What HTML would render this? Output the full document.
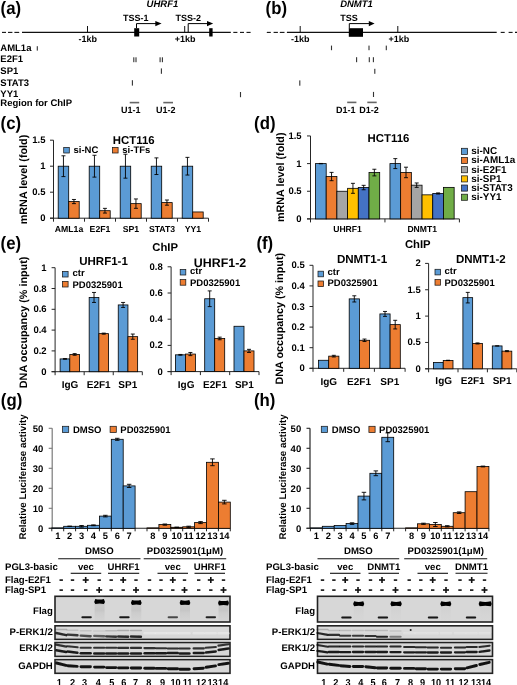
<!DOCTYPE html>
<html><head><meta charset="utf-8"><title>Figure</title>
<style>
html,body{margin:0;padding:0;background:#fff;}
body{width:517px;height:685px;overflow:hidden;}
svg{display:block;filter:blur(0.3px);}
text{font-family:"Liberation Sans", sans-serif;font-weight:bold;text-rendering:geometricPrecision;}
</style></head>
<body>
<svg width="517" height="685" viewBox="0 0 517 685">
<defs>
<filter id="bl" filterUnits="userSpaceOnUse" x="0" y="0" width="517" height="685"><feGaussianBlur stdDeviation="0.45"/></filter>
<linearGradient id="sm" x1="0" y1="0" x2="0" y2="1">
<stop offset="0" stop-color="#b0b0b0"/><stop offset="0.2" stop-color="#c6c6c6"/><stop offset="0.45" stop-color="#c2c2c2"/><stop offset="0.6" stop-color="#cacaca"/><stop offset="1" stop-color="#d2d2d2"/>
</linearGradient>
</defs>
<rect width="517" height="685" fill="#fff"/>
<text x="0.6" y="14.4" font-size="16.8" transform="translate(0.6 14.4) scale(1 1.06) translate(-0.6 -14.4)">(a)</text>
<line x1="2" y1="32.4" x2="6" y2="32.4" stroke="#111" stroke-width="1.1"/>
<line x1="8" y1="32.4" x2="12.4" y2="32.4" stroke="#111" stroke-width="1.1"/>
<line x1="14.4" y1="32.4" x2="19.2" y2="32.4" stroke="#111" stroke-width="1.1"/>
<line x1="22" y1="32.4" x2="230.8" y2="32.4" stroke="#111" stroke-width="1.1"/>
<line x1="233.3" y1="32.4" x2="237.4" y2="32.4" stroke="#111" stroke-width="1.1"/>
<line x1="240" y1="32.4" x2="244" y2="32.4" stroke="#111" stroke-width="1.1"/>
<line x1="246.5" y1="32.4" x2="250.6" y2="32.4" stroke="#111" stroke-width="1.1"/>
<line x1="87.5" y1="26" x2="87.5" y2="32.4" stroke="#111" stroke-width="1"/>
<line x1="184.7" y1="26" x2="184.7" y2="32.4" stroke="#111" stroke-width="1"/>
<text x="87.8" y="41.5" font-size="9" text-anchor="middle">-1kb</text>
<text x="185.2" y="41.5" font-size="9" text-anchor="middle">+1kb</text>
<text x="162.4" y="6.6" font-size="9.5" text-anchor="middle" font-style="italic">UHRF1</text>
<text x="135.8" y="21" font-size="9" text-anchor="middle">TSS-1</text>
<text x="188.3" y="21" font-size="9" text-anchor="middle">TSS-2</text>
<rect x="134.2" y="28.2" width="5" height="8.3" fill="#000"/>
<rect x="209.2" y="28.2" width="3.4" height="8.3" fill="#000"/>
<path d="M136.5 28.2 V23.6 H156" fill="none" stroke="#000" stroke-width="1"/>
<path d="M155.3 21 L161.6 23.6 L155.3 26.2 Z" fill="#000" stroke="none" stroke-width="0"/>
<path d="M188.2 32 V23.6 H208.5" fill="none" stroke="#000" stroke-width="1"/>
<path d="M207 21 L213.2 23.6 L207 26.2 Z" fill="#000" stroke="none" stroke-width="0"/>
<text x="0.3" y="50.9" font-size="9.5">AML1a</text>
<text x="0.3" y="62.4" font-size="9.5">E2F1</text>
<text x="0.3" y="74.1" font-size="9.5">SP1</text>
<text x="0.3" y="85.6" font-size="9.5">STAT3</text>
<text x="0.3" y="97.4" font-size="9.5">YY1</text>
<text x="0.3" y="105.6" font-size="9.5">Region for ChIP</text>
<rect x="36.75" y="46.2" width="1.1" height="4.4" fill="#333"/>
<rect x="133.25" y="57.3" width="1.1" height="4.9" fill="#333"/>
<rect x="135.45" y="57.3" width="1.1" height="4.9" fill="#333"/>
<rect x="159.55" y="57.3" width="1.1" height="4.9" fill="#333"/>
<rect x="161.85" y="57.3" width="1.1" height="4.9" fill="#333"/>
<rect x="160.85" y="68.4" width="1.1" height="5.4" fill="#333"/>
<rect x="131.85" y="80.2" width="1.1" height="5.4" fill="#333"/>
<rect x="239.95" y="92" width="1.1" height="5.2" fill="#333"/>
<rect x="129.7" y="101.8" width="9.5" height="1.6" fill="#666"/>
<rect x="163.3" y="101.8" width="9.7" height="1.6" fill="#666"/>
<text x="130.8" y="113" font-size="9" text-anchor="middle">U1-1</text>
<text x="165.8" y="113" font-size="9" text-anchor="middle">U1-2</text>
<text x="265.6" y="14.4" font-size="16.8" transform="translate(265.6 14.4) scale(1 1.06) translate(-265.6 -14.4)">(b)</text>
<line x1="266.8" y1="32.4" x2="270.8" y2="32.4" stroke="#111" stroke-width="1.1"/>
<line x1="273.6" y1="32.4" x2="277.9" y2="32.4" stroke="#111" stroke-width="1.1"/>
<line x1="279.8" y1="32.4" x2="284.5" y2="32.4" stroke="#111" stroke-width="1.1"/>
<line x1="286.9" y1="32.4" x2="496.7" y2="32.4" stroke="#111" stroke-width="1.1"/>
<line x1="500.7" y1="32.4" x2="504.7" y2="32.4" stroke="#111" stroke-width="1.1"/>
<line x1="508.6" y1="32.4" x2="512.6" y2="32.4" stroke="#111" stroke-width="1.1"/>
<line x1="515" y1="32.4" x2="517" y2="32.4" stroke="#111" stroke-width="1.1"/>
<line x1="300.2" y1="26" x2="300.2" y2="32.4" stroke="#111" stroke-width="1"/>
<line x1="397.8" y1="26" x2="397.8" y2="32.4" stroke="#111" stroke-width="1"/>
<text x="300.3" y="41.5" font-size="9" text-anchor="middle">-1kb</text>
<text x="398.8" y="41.5" font-size="9" text-anchor="middle">+1kb</text>
<text x="356.5" y="6.6" font-size="9.5" text-anchor="middle" font-style="italic">DNMT1</text>
<text x="349.1" y="20.8" font-size="9" text-anchor="middle">TSS</text>
<rect x="348.8" y="28.2" width="14.2" height="8.6" fill="#000"/>
<path d="M349.3 28.5 V23.6 H370" fill="none" stroke="#000" stroke-width="1"/>
<path d="M368.8 21 L374.6 23.6 L368.8 26.2 Z" fill="#000" stroke="none" stroke-width="0"/>
<rect x="330.95" y="45.6" width="1.1" height="4.6" fill="#333"/>
<rect x="368.45" y="45.6" width="1.1" height="4.6" fill="#333"/>
<rect x="385.75" y="45.6" width="1.1" height="4.6" fill="#333"/>
<rect x="356.05" y="57.2" width="1.1" height="5" fill="#333"/>
<rect x="368.75" y="57.2" width="1.1" height="5" fill="#333"/>
<rect x="372.85" y="57.2" width="1.1" height="5" fill="#333"/>
<rect x="374.25" y="68.8" width="1.1" height="5" fill="#333"/>
<rect x="299.25" y="80.4" width="1.1" height="5.3" fill="#333"/>
<rect x="372.95" y="91.9" width="1.1" height="5.1" fill="#333"/>
<rect x="347.2" y="101.6" width="9.2" height="1.6" fill="#666"/>
<rect x="367.3" y="101.6" width="9.4" height="1.6" fill="#666"/>
<text x="345.8" y="113" font-size="9" text-anchor="middle">D1-1</text>
<text x="369" y="113" font-size="9" text-anchor="middle">D1-2</text>
<text x="0.6" y="128.9" font-size="16.8" transform="translate(0.6 128.9) scale(1 1.06) translate(-0.6 -128.9)">(c)</text>
<line x1="53.5" y1="140.2" x2="53.5" y2="218.7" stroke="#262626" stroke-width="1"/>
<line x1="50" y1="218.2" x2="53.5" y2="218.2" stroke="#262626" stroke-width="1"/>
<text x="45.5" y="221.2" font-size="9.5" text-anchor="end">0</text>
<line x1="50" y1="192.2" x2="53.5" y2="192.2" stroke="#262626" stroke-width="1"/>
<text x="45.5" y="195.2" font-size="9.5" text-anchor="end">0.5</text>
<line x1="50" y1="166.2" x2="53.5" y2="166.2" stroke="#262626" stroke-width="1"/>
<text x="45.5" y="169.2" font-size="9.5" text-anchor="end">1</text>
<line x1="50" y1="140.2" x2="53.5" y2="140.2" stroke="#262626" stroke-width="1"/>
<text x="45.5" y="143.2" font-size="9.5" text-anchor="end">1.5</text>
<line x1="50" y1="218.2" x2="208.5" y2="218.2" stroke="#262626" stroke-width="1"/>
<line x1="53.5" y1="218.2" x2="53.5" y2="221.7" stroke="#262626" stroke-width="1"/>
<line x1="84.5" y1="218.2" x2="84.5" y2="221.7" stroke="#262626" stroke-width="1"/>
<line x1="115.5" y1="218.2" x2="115.5" y2="221.7" stroke="#262626" stroke-width="1"/>
<line x1="146.5" y1="218.2" x2="146.5" y2="221.7" stroke="#262626" stroke-width="1"/>
<line x1="177.5" y1="218.2" x2="177.5" y2="221.7" stroke="#262626" stroke-width="1"/>
<line x1="208.5" y1="218.2" x2="208.5" y2="221.7" stroke="#262626" stroke-width="1"/>
<rect x="58.2" y="166.2" width="10.5" height="52" fill="#5B9BD5" stroke="#000" stroke-width="0.8"/>
<line x1="63.45" y1="155.8" x2="63.45" y2="176.6" stroke="#000" stroke-width="0.9"/>
<line x1="61.45" y1="155.8" x2="65.45" y2="155.8" stroke="#000" stroke-width="0.9"/>
<line x1="61.45" y1="176.6" x2="65.45" y2="176.6" stroke="#000" stroke-width="0.9"/>
<rect x="68.7" y="201.56" width="10.5" height="16.64" fill="#ED7D31" stroke="#000" stroke-width="0.8"/>
<line x1="73.95" y1="199.48" x2="73.95" y2="203.64" stroke="#000" stroke-width="0.9"/>
<line x1="71.95" y1="199.48" x2="75.95" y2="199.48" stroke="#000" stroke-width="0.9"/>
<line x1="71.95" y1="203.64" x2="75.95" y2="203.64" stroke="#000" stroke-width="0.9"/>
<rect x="89.2" y="166.2" width="10.5" height="52" fill="#5B9BD5" stroke="#000" stroke-width="0.8"/>
<line x1="94.45" y1="155.28" x2="94.45" y2="177.12" stroke="#000" stroke-width="0.9"/>
<line x1="92.45" y1="155.28" x2="96.45" y2="155.28" stroke="#000" stroke-width="0.9"/>
<line x1="92.45" y1="177.12" x2="96.45" y2="177.12" stroke="#000" stroke-width="0.9"/>
<rect x="99.7" y="210.71" width="10.5" height="7.49" fill="#ED7D31" stroke="#000" stroke-width="0.8"/>
<line x1="104.95" y1="208.37" x2="104.95" y2="213.05" stroke="#000" stroke-width="0.9"/>
<line x1="102.95" y1="208.37" x2="106.95" y2="208.37" stroke="#000" stroke-width="0.9"/>
<line x1="102.95" y1="213.05" x2="106.95" y2="213.05" stroke="#000" stroke-width="0.9"/>
<rect x="120.2" y="166.2" width="10.5" height="52" fill="#5B9BD5" stroke="#000" stroke-width="0.8"/>
<line x1="125.45" y1="154.24" x2="125.45" y2="178.16" stroke="#000" stroke-width="0.9"/>
<line x1="123.45" y1="154.24" x2="127.45" y2="154.24" stroke="#000" stroke-width="0.9"/>
<line x1="123.45" y1="178.16" x2="127.45" y2="178.16" stroke="#000" stroke-width="0.9"/>
<rect x="130.7" y="203.64" width="10.5" height="14.56" fill="#ED7D31" stroke="#000" stroke-width="0.8"/>
<line x1="135.95" y1="198.96" x2="135.95" y2="208.32" stroke="#000" stroke-width="0.9"/>
<line x1="133.95" y1="198.96" x2="137.95" y2="198.96" stroke="#000" stroke-width="0.9"/>
<line x1="133.95" y1="208.32" x2="137.95" y2="208.32" stroke="#000" stroke-width="0.9"/>
<rect x="151.2" y="166.2" width="10.5" height="52" fill="#5B9BD5" stroke="#000" stroke-width="0.8"/>
<line x1="156.45" y1="157.88" x2="156.45" y2="174.52" stroke="#000" stroke-width="0.9"/>
<line x1="154.45" y1="157.88" x2="158.45" y2="157.88" stroke="#000" stroke-width="0.9"/>
<line x1="154.45" y1="174.52" x2="158.45" y2="174.52" stroke="#000" stroke-width="0.9"/>
<rect x="161.7" y="202.6" width="10.5" height="15.6" fill="#ED7D31" stroke="#000" stroke-width="0.8"/>
<line x1="166.95" y1="200" x2="166.95" y2="205.2" stroke="#000" stroke-width="0.9"/>
<line x1="164.95" y1="200" x2="168.95" y2="200" stroke="#000" stroke-width="0.9"/>
<line x1="164.95" y1="205.2" x2="168.95" y2="205.2" stroke="#000" stroke-width="0.9"/>
<rect x="182.2" y="166.2" width="10.5" height="52" fill="#5B9BD5" stroke="#000" stroke-width="0.8"/>
<line x1="187.45" y1="157.36" x2="187.45" y2="175.04" stroke="#000" stroke-width="0.9"/>
<line x1="185.45" y1="157.36" x2="189.45" y2="157.36" stroke="#000" stroke-width="0.9"/>
<line x1="185.45" y1="175.04" x2="189.45" y2="175.04" stroke="#000" stroke-width="0.9"/>
<rect x="192.7" y="211.96" width="10.5" height="6.24" fill="#ED7D31" stroke="#000" stroke-width="0.8"/>
<text x="69" y="232.1" font-size="8.7" text-anchor="middle">AML1a</text>
<text x="100" y="232.1" font-size="8.7" text-anchor="middle">E2F1</text>
<text x="131" y="232.1" font-size="8.7" text-anchor="middle">SP1</text>
<text x="162" y="232.1" font-size="8.7" text-anchor="middle">STAT3</text>
<text x="193" y="232.1" font-size="8.7" text-anchor="middle">YY1</text>
<text x="133.7" y="143.8" font-size="11.4" text-anchor="middle">HCT116</text>
<rect x="63.7" y="147.4" width="5.6" height="5.6" fill="#5B9BD5" stroke="#1a1a1a" stroke-width="0.75"/>
<text x="73.5" y="153.2" font-size="9.5">si-NC</text>
<rect x="112.5" y="147.4" width="5.6" height="5.6" fill="#ED7D31" stroke="#1a1a1a" stroke-width="0.75"/>
<text x="122.3" y="153.2" font-size="9.5">si-TFs</text>
<text x="27.4" y="179.5" font-size="10.8" text-anchor="middle" transform="rotate(-90 27.4 179.5)">mRNA level (fold)</text>
<text x="254.1" y="128.9" font-size="16.8" transform="translate(254.1 128.9) scale(1 1.06) translate(-254.1 -128.9)">(d)</text>
<line x1="310.5" y1="135.95" x2="310.5" y2="219.4" stroke="#262626" stroke-width="1"/>
<line x1="307" y1="218.9" x2="310.5" y2="218.9" stroke="#262626" stroke-width="1"/>
<text x="301.6" y="221.9" font-size="9.5" text-anchor="end">0</text>
<line x1="307" y1="191.25" x2="310.5" y2="191.25" stroke="#262626" stroke-width="1"/>
<text x="301.6" y="194.25" font-size="9.5" text-anchor="end">0.5</text>
<line x1="307" y1="163.6" x2="310.5" y2="163.6" stroke="#262626" stroke-width="1"/>
<text x="301.6" y="166.6" font-size="9.5" text-anchor="end">1</text>
<line x1="307" y1="135.95" x2="310.5" y2="135.95" stroke="#262626" stroke-width="1"/>
<text x="301.6" y="138.95" font-size="9.5" text-anchor="end">1.5</text>
<line x1="307" y1="218.9" x2="459.4" y2="218.9" stroke="#262626" stroke-width="1"/>
<line x1="310.5" y1="218.9" x2="310.5" y2="222.4" stroke="#262626" stroke-width="1"/>
<line x1="384.95" y1="218.9" x2="384.95" y2="222.4" stroke="#262626" stroke-width="1"/>
<line x1="459.4" y1="218.9" x2="459.4" y2="222.4" stroke="#262626" stroke-width="1"/>
<rect x="315.5" y="163.6" width="10.7" height="55.3" fill="#5B9BD5" stroke="#000" stroke-width="0.8"/>
<line x1="318.85" y1="163.6" x2="322.85" y2="163.6" stroke="#000" stroke-width="1.3"/>
<rect x="326.2" y="176.54" width="10.7" height="42.36" fill="#ED7D31" stroke="#000" stroke-width="0.8"/>
<line x1="331.55" y1="172.39" x2="331.55" y2="180.69" stroke="#000" stroke-width="0.9"/>
<line x1="329.55" y1="172.39" x2="333.55" y2="172.39" stroke="#000" stroke-width="0.9"/>
<line x1="329.55" y1="180.69" x2="333.55" y2="180.69" stroke="#000" stroke-width="0.9"/>
<rect x="336.9" y="191.25" width="10.7" height="27.65" fill="#A5A5A5" stroke="#000" stroke-width="0.8"/>
<rect x="347.6" y="188.32" width="10.7" height="30.58" fill="#FFC000" stroke="#000" stroke-width="0.8"/>
<line x1="352.95" y1="183.34" x2="352.95" y2="193.3" stroke="#000" stroke-width="0.9"/>
<line x1="350.95" y1="183.34" x2="354.95" y2="183.34" stroke="#000" stroke-width="0.9"/>
<line x1="350.95" y1="193.3" x2="354.95" y2="193.3" stroke="#000" stroke-width="0.9"/>
<rect x="358.3" y="187.54" width="10.7" height="31.36" fill="#4472C4" stroke="#000" stroke-width="0.8"/>
<line x1="363.65" y1="185.33" x2="363.65" y2="189.76" stroke="#000" stroke-width="0.9"/>
<line x1="361.65" y1="185.33" x2="365.65" y2="185.33" stroke="#000" stroke-width="0.9"/>
<line x1="361.65" y1="189.76" x2="365.65" y2="189.76" stroke="#000" stroke-width="0.9"/>
<rect x="369" y="172.56" width="10.7" height="46.34" fill="#70AD47" stroke="#000" stroke-width="0.8"/>
<line x1="374.35" y1="169.24" x2="374.35" y2="175.88" stroke="#000" stroke-width="0.9"/>
<line x1="372.35" y1="169.24" x2="376.35" y2="169.24" stroke="#000" stroke-width="0.9"/>
<line x1="372.35" y1="175.88" x2="376.35" y2="175.88" stroke="#000" stroke-width="0.9"/>
<rect x="389.95" y="163.6" width="10.7" height="55.3" fill="#5B9BD5" stroke="#000" stroke-width="0.8"/>
<line x1="395.3" y1="158.62" x2="395.3" y2="168.58" stroke="#000" stroke-width="0.9"/>
<line x1="393.3" y1="158.62" x2="397.3" y2="158.62" stroke="#000" stroke-width="0.9"/>
<line x1="393.3" y1="168.58" x2="397.3" y2="168.58" stroke="#000" stroke-width="0.9"/>
<rect x="400.65" y="172.45" width="10.7" height="46.45" fill="#ED7D31" stroke="#000" stroke-width="0.8"/>
<line x1="406" y1="167.19" x2="406" y2="177.7" stroke="#000" stroke-width="0.9"/>
<line x1="404" y1="167.19" x2="408" y2="167.19" stroke="#000" stroke-width="0.9"/>
<line x1="404" y1="177.7" x2="408" y2="177.7" stroke="#000" stroke-width="0.9"/>
<rect x="411.35" y="185.17" width="10.7" height="33.73" fill="#A5A5A5" stroke="#000" stroke-width="0.8"/>
<line x1="416.7" y1="182.96" x2="416.7" y2="187.38" stroke="#000" stroke-width="0.9"/>
<line x1="414.7" y1="182.96" x2="418.7" y2="182.96" stroke="#000" stroke-width="0.9"/>
<line x1="414.7" y1="187.38" x2="418.7" y2="187.38" stroke="#000" stroke-width="0.9"/>
<rect x="422.05" y="194.84" width="10.7" height="24.06" fill="#FFC000" stroke="#000" stroke-width="0.8"/>
<rect x="432.75" y="193.46" width="10.7" height="25.44" fill="#4472C4" stroke="#000" stroke-width="0.8"/>
<line x1="438.1" y1="192.91" x2="438.1" y2="194.02" stroke="#000" stroke-width="0.9"/>
<line x1="436.1" y1="192.91" x2="440.1" y2="192.91" stroke="#000" stroke-width="0.9"/>
<line x1="436.1" y1="194.02" x2="440.1" y2="194.02" stroke="#000" stroke-width="0.9"/>
<rect x="443.45" y="187.38" width="10.7" height="31.52" fill="#70AD47" stroke="#000" stroke-width="0.8"/>
<text x="347.5" y="232.2" font-size="8.6" text-anchor="middle">UHRF1</text>
<text x="422.2" y="232.3" font-size="8.6" text-anchor="middle">DNMT1</text>
<text x="388.5" y="142.1" font-size="11.4" text-anchor="middle">HCT116</text>
<rect x="461.5" y="148.3" width="6.1" height="6.1" fill="#5B9BD5" stroke="#1a1a1a" stroke-width="0.75"/>
<text x="471.3" y="154.2" font-size="9.9">si-NC</text>
<rect x="461.5" y="157.48" width="6.1" height="6.1" fill="#ED7D31" stroke="#1a1a1a" stroke-width="0.75"/>
<text x="471.3" y="163.38" font-size="9.9">si-AML1a</text>
<rect x="461.5" y="166.66" width="6.1" height="6.1" fill="#A5A5A5" stroke="#1a1a1a" stroke-width="0.75"/>
<text x="471.3" y="172.56" font-size="9.9">si-E2F1</text>
<rect x="461.5" y="175.84" width="6.1" height="6.1" fill="#FFC000" stroke="#1a1a1a" stroke-width="0.75"/>
<text x="471.3" y="181.74" font-size="9.9">si-SP1</text>
<rect x="461.5" y="185.02" width="6.1" height="6.1" fill="#4472C4" stroke="#1a1a1a" stroke-width="0.75"/>
<text x="471.3" y="190.92" font-size="9.9">si-STAT3</text>
<rect x="461.5" y="194.2" width="6.1" height="6.1" fill="#70AD47" stroke="#1a1a1a" stroke-width="0.75"/>
<text x="471.3" y="200.1" font-size="9.9">si-YY1</text>
<text x="283.6" y="177.3" font-size="10.8" text-anchor="middle" transform="rotate(-90 283.6 177.3)">mRNA level (fold)</text>
<text x="0.6" y="248.8" font-size="16.8" transform="translate(0.6 248.8) scale(1 1.06) translate(-0.6 -248.8)">(e)</text>
<text x="165.1" y="250.9" font-size="11.3" text-anchor="middle">ChIP</text>
<text x="26.6" y="322.4" font-size="10.8" text-anchor="middle" transform="rotate(-90 26.6 322.4)">DNA occupancy (% input)</text>
<line x1="55.1" y1="267.7" x2="55.1" y2="372.2" stroke="#262626" stroke-width="1"/>
<line x1="51.6" y1="371.7" x2="55.1" y2="371.7" stroke="#262626" stroke-width="1"/>
<text x="46.6" y="374.7" font-size="9.5" text-anchor="end">0</text>
<line x1="51.6" y1="350.9" x2="55.1" y2="350.9" stroke="#262626" stroke-width="1"/>
<text x="46.6" y="353.9" font-size="9.5" text-anchor="end">0.2</text>
<line x1="51.6" y1="330.1" x2="55.1" y2="330.1" stroke="#262626" stroke-width="1"/>
<text x="46.6" y="333.1" font-size="9.5" text-anchor="end">0.4</text>
<line x1="51.6" y1="309.3" x2="55.1" y2="309.3" stroke="#262626" stroke-width="1"/>
<text x="46.6" y="312.3" font-size="9.5" text-anchor="end">0.6</text>
<line x1="51.6" y1="288.5" x2="55.1" y2="288.5" stroke="#262626" stroke-width="1"/>
<text x="46.6" y="291.5" font-size="9.5" text-anchor="end">0.8</text>
<line x1="51.6" y1="267.7" x2="55.1" y2="267.7" stroke="#262626" stroke-width="1"/>
<text x="46.6" y="270.7" font-size="9.5" text-anchor="end">1</text>
<line x1="51.6" y1="371.7" x2="142.31" y2="371.7" stroke="#262626" stroke-width="1"/>
<line x1="55.1" y1="371.7" x2="55.1" y2="375.2" stroke="#262626" stroke-width="1"/>
<line x1="84.17" y1="371.7" x2="84.17" y2="375.2" stroke="#262626" stroke-width="1"/>
<line x1="113.24" y1="371.7" x2="113.24" y2="375.2" stroke="#262626" stroke-width="1"/>
<line x1="142.31" y1="371.7" x2="142.31" y2="375.2" stroke="#262626" stroke-width="1"/>
<rect x="60.1" y="358.91" width="9.7" height="12.79" fill="#5B9BD5" stroke="#000" stroke-width="0.8"/>
<line x1="64.95" y1="358.6" x2="64.95" y2="359.22" stroke="#000" stroke-width="0.9"/>
<line x1="62.95" y1="358.6" x2="66.95" y2="358.6" stroke="#000" stroke-width="0.9"/>
<line x1="62.95" y1="359.22" x2="66.95" y2="359.22" stroke="#000" stroke-width="0.9"/>
<rect x="69.8" y="354.44" width="9.7" height="17.26" fill="#ED7D31" stroke="#000" stroke-width="0.8"/>
<line x1="74.65" y1="353.6" x2="74.65" y2="355.27" stroke="#000" stroke-width="0.9"/>
<line x1="72.65" y1="353.6" x2="76.65" y2="353.6" stroke="#000" stroke-width="0.9"/>
<line x1="72.65" y1="355.27" x2="76.65" y2="355.27" stroke="#000" stroke-width="0.9"/>
<rect x="89.17" y="297.44" width="9.7" height="74.26" fill="#5B9BD5" stroke="#000" stroke-width="0.8"/>
<line x1="94.02" y1="292.45" x2="94.02" y2="302.44" stroke="#000" stroke-width="0.9"/>
<line x1="92.02" y1="292.45" x2="96.02" y2="292.45" stroke="#000" stroke-width="0.9"/>
<line x1="92.02" y1="302.44" x2="96.02" y2="302.44" stroke="#000" stroke-width="0.9"/>
<rect x="98.87" y="333.64" width="9.7" height="38.06" fill="#ED7D31" stroke="#000" stroke-width="0.8"/>
<line x1="103.72" y1="333.12" x2="103.72" y2="334.16" stroke="#000" stroke-width="0.9"/>
<line x1="101.72" y1="333.12" x2="105.72" y2="333.12" stroke="#000" stroke-width="0.9"/>
<line x1="101.72" y1="334.16" x2="105.72" y2="334.16" stroke="#000" stroke-width="0.9"/>
<rect x="118.24" y="304.93" width="9.7" height="66.77" fill="#5B9BD5" stroke="#000" stroke-width="0.8"/>
<line x1="123.09" y1="302.44" x2="123.09" y2="307.43" stroke="#000" stroke-width="0.9"/>
<line x1="121.09" y1="302.44" x2="125.09" y2="302.44" stroke="#000" stroke-width="0.9"/>
<line x1="121.09" y1="307.43" x2="125.09" y2="307.43" stroke="#000" stroke-width="0.9"/>
<rect x="127.94" y="336.65" width="9.7" height="35.05" fill="#ED7D31" stroke="#000" stroke-width="0.8"/>
<line x1="132.79" y1="334.05" x2="132.79" y2="339.25" stroke="#000" stroke-width="0.9"/>
<line x1="130.79" y1="334.05" x2="134.79" y2="334.05" stroke="#000" stroke-width="0.9"/>
<line x1="130.79" y1="339.25" x2="134.79" y2="339.25" stroke="#000" stroke-width="0.9"/>
<text x="70.04" y="388" font-size="10" text-anchor="middle">IgG</text>
<text x="98.71" y="388" font-size="10" text-anchor="middle">E2F1</text>
<text x="127.78" y="388" font-size="10" text-anchor="middle">SP1</text>
<text x="103.5" y="265.1" font-size="11.5" text-anchor="middle">UHRF1-1</text>
<rect x="62.5" y="271.4" width="5.6" height="5.6" fill="#5B9BD5" stroke="#1a1a1a" stroke-width="0.75"/>
<text x="72.5" y="275.8" font-size="9.5">ctr</text>
<rect x="62.5" y="281.4" width="5.6" height="5.6" fill="#ED7D31" stroke="#1a1a1a" stroke-width="0.75"/>
<text x="72.5" y="288.2" font-size="9.5">PD0325901</text>
<line x1="171.1" y1="266.8" x2="171.1" y2="372.1" stroke="#262626" stroke-width="1"/>
<line x1="167.6" y1="371.6" x2="171.1" y2="371.6" stroke="#262626" stroke-width="1"/>
<text x="162.8" y="374.6" font-size="9.5" text-anchor="end">0</text>
<line x1="167.6" y1="345.4" x2="171.1" y2="345.4" stroke="#262626" stroke-width="1"/>
<text x="162.8" y="348.4" font-size="9.5" text-anchor="end">0.2</text>
<line x1="167.6" y1="319.2" x2="171.1" y2="319.2" stroke="#262626" stroke-width="1"/>
<text x="162.8" y="322.2" font-size="9.5" text-anchor="end">0.4</text>
<line x1="167.6" y1="293" x2="171.1" y2="293" stroke="#262626" stroke-width="1"/>
<text x="162.8" y="296" font-size="9.5" text-anchor="end">0.6</text>
<line x1="167.6" y1="266.8" x2="171.1" y2="266.8" stroke="#262626" stroke-width="1"/>
<text x="162.8" y="269.8" font-size="9.5" text-anchor="end">0.8</text>
<line x1="167.6" y1="371.6" x2="259" y2="371.6" stroke="#262626" stroke-width="1"/>
<line x1="171.1" y1="371.6" x2="171.1" y2="375.1" stroke="#262626" stroke-width="1"/>
<line x1="200.4" y1="371.6" x2="200.4" y2="375.1" stroke="#262626" stroke-width="1"/>
<line x1="229.7" y1="371.6" x2="229.7" y2="375.1" stroke="#262626" stroke-width="1"/>
<line x1="259" y1="371.6" x2="259" y2="375.1" stroke="#262626" stroke-width="1"/>
<rect x="175.4" y="354.83" width="10" height="16.77" fill="#5B9BD5" stroke="#000" stroke-width="0.8"/>
<line x1="180.4" y1="354.44" x2="180.4" y2="355.23" stroke="#000" stroke-width="0.9"/>
<line x1="178.4" y1="354.44" x2="182.4" y2="354.44" stroke="#000" stroke-width="0.9"/>
<line x1="178.4" y1="355.23" x2="182.4" y2="355.23" stroke="#000" stroke-width="0.9"/>
<rect x="185.4" y="354.05" width="10" height="17.55" fill="#ED7D31" stroke="#000" stroke-width="0.8"/>
<line x1="190.4" y1="352.47" x2="190.4" y2="355.62" stroke="#000" stroke-width="0.9"/>
<line x1="188.4" y1="352.47" x2="192.4" y2="352.47" stroke="#000" stroke-width="0.9"/>
<line x1="188.4" y1="355.62" x2="192.4" y2="355.62" stroke="#000" stroke-width="0.9"/>
<rect x="204.7" y="298.76" width="10" height="72.84" fill="#5B9BD5" stroke="#000" stroke-width="0.8"/>
<line x1="209.7" y1="290.9" x2="209.7" y2="306.62" stroke="#000" stroke-width="0.9"/>
<line x1="207.7" y1="290.9" x2="211.7" y2="290.9" stroke="#000" stroke-width="0.9"/>
<line x1="207.7" y1="306.62" x2="211.7" y2="306.62" stroke="#000" stroke-width="0.9"/>
<rect x="214.7" y="338.46" width="10" height="33.14" fill="#ED7D31" stroke="#000" stroke-width="0.8"/>
<line x1="219.7" y1="337.15" x2="219.7" y2="339.77" stroke="#000" stroke-width="0.9"/>
<line x1="217.7" y1="337.15" x2="221.7" y2="337.15" stroke="#000" stroke-width="0.9"/>
<line x1="217.7" y1="339.77" x2="221.7" y2="339.77" stroke="#000" stroke-width="0.9"/>
<rect x="234" y="326.27" width="10" height="45.33" fill="#5B9BD5" stroke="#000" stroke-width="0.8"/>
<rect x="244" y="350.9" width="10" height="20.7" fill="#ED7D31" stroke="#000" stroke-width="0.8"/>
<line x1="249" y1="349.33" x2="249" y2="352.47" stroke="#000" stroke-width="0.9"/>
<line x1="247" y1="349.33" x2="251" y2="349.33" stroke="#000" stroke-width="0.9"/>
<line x1="247" y1="352.47" x2="251" y2="352.47" stroke="#000" stroke-width="0.9"/>
<text x="186.15" y="388" font-size="10" text-anchor="middle">IgG</text>
<text x="215.05" y="388" font-size="10" text-anchor="middle">E2F1</text>
<text x="244.35" y="388" font-size="10" text-anchor="middle">SP1</text>
<text x="220" y="267" font-size="12.4" text-anchor="middle">UHRF1-2</text>
<rect x="180.2" y="269.4" width="5.6" height="5.6" fill="#5B9BD5" stroke="#1a1a1a" stroke-width="0.75"/>
<text x="190" y="273.9" font-size="9.5">ctr</text>
<rect x="180.2" y="279.6" width="5.6" height="5.6" fill="#ED7D31" stroke="#1a1a1a" stroke-width="0.75"/>
<text x="190" y="286" font-size="9.5">PD0325901</text>
<text x="256.4" y="248.8" font-size="16.8" transform="translate(256.4 248.8) scale(1 1.06) translate(-256.4 -248.8)">(f)</text>
<text x="417.8" y="247.5" font-size="11.3" text-anchor="middle">ChIP</text>
<text x="283.5" y="318.7" font-size="10.8" text-anchor="middle" transform="rotate(-90 283.5 318.7)">DNA occupancy (% input)</text>
<line x1="313" y1="265.3" x2="313" y2="368.8" stroke="#262626" stroke-width="1"/>
<line x1="309.5" y1="368.3" x2="313" y2="368.3" stroke="#262626" stroke-width="1"/>
<text x="304.8" y="371.3" font-size="9.5" text-anchor="end">0</text>
<line x1="309.5" y1="347.7" x2="313" y2="347.7" stroke="#262626" stroke-width="1"/>
<text x="304.8" y="350.7" font-size="9.5" text-anchor="end">0.1</text>
<line x1="309.5" y1="327.1" x2="313" y2="327.1" stroke="#262626" stroke-width="1"/>
<text x="304.8" y="330.1" font-size="9.5" text-anchor="end">0.2</text>
<line x1="309.5" y1="306.5" x2="313" y2="306.5" stroke="#262626" stroke-width="1"/>
<text x="304.8" y="309.5" font-size="9.5" text-anchor="end">0.3</text>
<line x1="309.5" y1="285.9" x2="313" y2="285.9" stroke="#262626" stroke-width="1"/>
<text x="304.8" y="288.9" font-size="9.5" text-anchor="end">0.4</text>
<line x1="309.5" y1="265.3" x2="313" y2="265.3" stroke="#262626" stroke-width="1"/>
<text x="304.8" y="268.3" font-size="9.5" text-anchor="end">0.5</text>
<line x1="309.5" y1="368.3" x2="405.1" y2="368.3" stroke="#262626" stroke-width="1"/>
<line x1="313" y1="368.3" x2="313" y2="371.8" stroke="#262626" stroke-width="1"/>
<line x1="343.7" y1="368.3" x2="343.7" y2="371.8" stroke="#262626" stroke-width="1"/>
<line x1="374.4" y1="368.3" x2="374.4" y2="371.8" stroke="#262626" stroke-width="1"/>
<line x1="405.1" y1="368.3" x2="405.1" y2="371.8" stroke="#262626" stroke-width="1"/>
<rect x="318.5" y="360.27" width="10.2" height="8.03" fill="#5B9BD5" stroke="#000" stroke-width="0.8"/>
<rect x="328.7" y="356.15" width="10.2" height="12.15" fill="#ED7D31" stroke="#000" stroke-width="0.8"/>
<line x1="333.8" y1="355.32" x2="333.8" y2="356.97" stroke="#000" stroke-width="0.9"/>
<line x1="331.8" y1="355.32" x2="335.8" y2="355.32" stroke="#000" stroke-width="0.9"/>
<line x1="331.8" y1="356.97" x2="335.8" y2="356.97" stroke="#000" stroke-width="0.9"/>
<rect x="349.2" y="298.88" width="10.2" height="69.42" fill="#5B9BD5" stroke="#000" stroke-width="0.8"/>
<line x1="354.3" y1="295.79" x2="354.3" y2="301.97" stroke="#000" stroke-width="0.9"/>
<line x1="352.3" y1="295.79" x2="356.3" y2="295.79" stroke="#000" stroke-width="0.9"/>
<line x1="352.3" y1="301.97" x2="356.3" y2="301.97" stroke="#000" stroke-width="0.9"/>
<rect x="359.4" y="340.28" width="10.2" height="28.02" fill="#ED7D31" stroke="#000" stroke-width="0.8"/>
<line x1="364.5" y1="339.05" x2="364.5" y2="341.52" stroke="#000" stroke-width="0.9"/>
<line x1="362.5" y1="339.05" x2="366.5" y2="339.05" stroke="#000" stroke-width="0.9"/>
<line x1="362.5" y1="341.52" x2="366.5" y2="341.52" stroke="#000" stroke-width="0.9"/>
<rect x="379.9" y="313.92" width="10.2" height="54.38" fill="#5B9BD5" stroke="#000" stroke-width="0.8"/>
<line x1="385" y1="311.44" x2="385" y2="316.39" stroke="#000" stroke-width="0.9"/>
<line x1="383" y1="311.44" x2="387" y2="311.44" stroke="#000" stroke-width="0.9"/>
<line x1="383" y1="316.39" x2="387" y2="316.39" stroke="#000" stroke-width="0.9"/>
<rect x="390.1" y="324.63" width="10.2" height="43.67" fill="#ED7D31" stroke="#000" stroke-width="0.8"/>
<line x1="395.2" y1="320.3" x2="395.2" y2="328.95" stroke="#000" stroke-width="0.9"/>
<line x1="393.2" y1="320.3" x2="397.2" y2="320.3" stroke="#000" stroke-width="0.9"/>
<line x1="393.2" y1="328.95" x2="397.2" y2="328.95" stroke="#000" stroke-width="0.9"/>
<text x="328.75" y="384.5" font-size="10" text-anchor="middle">IgG</text>
<text x="359.05" y="384.5" font-size="10" text-anchor="middle">E2F1</text>
<text x="389.75" y="384.5" font-size="10" text-anchor="middle">SP1</text>
<text x="362" y="262.6" font-size="11.6" text-anchor="middle">DNMT1-1</text>
<rect x="318" y="271.2" width="5.6" height="5.6" fill="#5B9BD5" stroke="#1a1a1a" stroke-width="0.75"/>
<text x="327.5" y="275.2" font-size="9.5">ctr</text>
<rect x="318" y="281" width="5.6" height="5.6" fill="#ED7D31" stroke="#1a1a1a" stroke-width="0.75"/>
<text x="327.5" y="286.3" font-size="9.5">PD0325901</text>
<line x1="428.6" y1="263.4" x2="428.6" y2="369.3" stroke="#262626" stroke-width="1"/>
<line x1="425.1" y1="368.8" x2="428.6" y2="368.8" stroke="#262626" stroke-width="1"/>
<text x="420.8" y="371.8" font-size="9.5" text-anchor="end">0</text>
<line x1="425.1" y1="342.45" x2="428.6" y2="342.45" stroke="#262626" stroke-width="1"/>
<text x="420.8" y="345.45" font-size="9.5" text-anchor="end">0.5</text>
<line x1="425.1" y1="316.1" x2="428.6" y2="316.1" stroke="#262626" stroke-width="1"/>
<text x="420.8" y="319.1" font-size="9.5" text-anchor="end">1</text>
<line x1="425.1" y1="289.75" x2="428.6" y2="289.75" stroke="#262626" stroke-width="1"/>
<text x="420.8" y="292.75" font-size="9.5" text-anchor="end">1.5</text>
<line x1="425.1" y1="263.4" x2="428.6" y2="263.4" stroke="#262626" stroke-width="1"/>
<text x="420.8" y="266.4" font-size="9.5" text-anchor="end">2</text>
<line x1="425.1" y1="368.8" x2="516.8" y2="368.8" stroke="#262626" stroke-width="1"/>
<line x1="428.6" y1="368.8" x2="428.6" y2="372.3" stroke="#262626" stroke-width="1"/>
<line x1="458" y1="368.8" x2="458" y2="372.3" stroke="#262626" stroke-width="1"/>
<line x1="487.4" y1="368.8" x2="487.4" y2="372.3" stroke="#262626" stroke-width="1"/>
<line x1="516.8" y1="368.8" x2="516.8" y2="372.3" stroke="#262626" stroke-width="1"/>
<rect x="433.5" y="362.42" width="9.75" height="6.38" fill="#5B9BD5" stroke="#000" stroke-width="0.8"/>
<rect x="443.25" y="360.42" width="9.75" height="8.38" fill="#ED7D31" stroke="#000" stroke-width="0.8"/>
<line x1="446.12" y1="360.42" x2="450.12" y2="360.42" stroke="#000" stroke-width="1.3"/>
<rect x="462.9" y="297.65" width="9.75" height="71.15" fill="#5B9BD5" stroke="#000" stroke-width="0.8"/>
<line x1="467.77" y1="292.38" x2="467.77" y2="302.93" stroke="#000" stroke-width="0.9"/>
<line x1="465.77" y1="292.38" x2="469.77" y2="292.38" stroke="#000" stroke-width="0.9"/>
<line x1="465.77" y1="302.93" x2="469.77" y2="302.93" stroke="#000" stroke-width="0.9"/>
<rect x="472.65" y="343.45" width="9.75" height="25.35" fill="#ED7D31" stroke="#000" stroke-width="0.8"/>
<line x1="477.52" y1="342.92" x2="477.52" y2="343.98" stroke="#000" stroke-width="0.9"/>
<line x1="475.52" y1="342.92" x2="479.52" y2="342.92" stroke="#000" stroke-width="0.9"/>
<line x1="475.52" y1="343.98" x2="479.52" y2="343.98" stroke="#000" stroke-width="0.9"/>
<rect x="492.3" y="345.93" width="9.75" height="22.87" fill="#5B9BD5" stroke="#000" stroke-width="0.8"/>
<line x1="495.18" y1="345.93" x2="499.18" y2="345.93" stroke="#000" stroke-width="1.3"/>
<rect x="502.05" y="351.15" width="9.75" height="17.65" fill="#ED7D31" stroke="#000" stroke-width="0.8"/>
<line x1="506.93" y1="350.62" x2="506.93" y2="351.67" stroke="#000" stroke-width="0.9"/>
<line x1="504.93" y1="350.62" x2="508.93" y2="350.62" stroke="#000" stroke-width="0.9"/>
<line x1="504.93" y1="351.67" x2="508.93" y2="351.67" stroke="#000" stroke-width="0.9"/>
<text x="443.7" y="384" font-size="10" text-anchor="middle">IgG</text>
<text x="472.7" y="384" font-size="10" text-anchor="middle">E2F1</text>
<text x="502.1" y="384" font-size="10" text-anchor="middle">SP1</text>
<text x="480.8" y="262.5" font-size="11.5" text-anchor="middle">DNMT1-2</text>
<rect x="435" y="269.3" width="5.6" height="5.6" fill="#5B9BD5" stroke="#1a1a1a" stroke-width="0.75"/>
<text x="444.5" y="273.5" font-size="9.5">ctr</text>
<rect x="435" y="279.6" width="5.6" height="5.6" fill="#ED7D31" stroke="#1a1a1a" stroke-width="0.75"/>
<text x="444.5" y="285.8" font-size="9.5">PD0325901</text>
<text x="0.8" y="406" font-size="16.8" transform="translate(0.8 406) scale(1 1.06) translate(-0.8 -406)">(g)</text>
<line x1="52.2" y1="428.3" x2="52.2" y2="528.8" stroke="#7a7a7a" stroke-width="1.2"/>
<line x1="48.7" y1="528.3" x2="52.2" y2="528.3" stroke="#7a7a7a" stroke-width="1.1"/>
<text x="43.4" y="531.6" font-size="9.5" text-anchor="end">0</text>
<line x1="48.7" y1="508.3" x2="52.2" y2="508.3" stroke="#7a7a7a" stroke-width="1.1"/>
<text x="43.4" y="511.6" font-size="9.5" text-anchor="end">10</text>
<line x1="48.7" y1="488.3" x2="52.2" y2="488.3" stroke="#7a7a7a" stroke-width="1.1"/>
<text x="43.4" y="491.6" font-size="9.5" text-anchor="end">20</text>
<line x1="48.7" y1="468.3" x2="52.2" y2="468.3" stroke="#7a7a7a" stroke-width="1.1"/>
<text x="43.4" y="471.6" font-size="9.5" text-anchor="end">30</text>
<line x1="48.7" y1="448.3" x2="52.2" y2="448.3" stroke="#7a7a7a" stroke-width="1.1"/>
<text x="43.4" y="451.6" font-size="9.5" text-anchor="end">40</text>
<line x1="48.7" y1="428.3" x2="52.2" y2="428.3" stroke="#7a7a7a" stroke-width="1.1"/>
<text x="43.4" y="431.6" font-size="9.5" text-anchor="end">50</text>
<line x1="48.7" y1="528.3" x2="230.3" y2="528.3" stroke="#262626" stroke-width="1.1"/>
<line x1="51.8" y1="528.3" x2="51.8" y2="531.3" stroke="#262626" stroke-width="1"/>
<line x1="63.7" y1="528.3" x2="63.7" y2="531.3" stroke="#262626" stroke-width="1"/>
<line x1="75.6" y1="528.3" x2="75.6" y2="531.3" stroke="#262626" stroke-width="1"/>
<line x1="87.5" y1="528.3" x2="87.5" y2="531.3" stroke="#262626" stroke-width="1"/>
<line x1="99.4" y1="528.3" x2="99.4" y2="531.3" stroke="#262626" stroke-width="1"/>
<line x1="111.3" y1="528.3" x2="111.3" y2="531.3" stroke="#262626" stroke-width="1"/>
<line x1="123.2" y1="528.3" x2="123.2" y2="531.3" stroke="#262626" stroke-width="1"/>
<line x1="135.1" y1="528.3" x2="135.1" y2="531.3" stroke="#262626" stroke-width="1"/>
<line x1="147" y1="528.3" x2="147" y2="531.3" stroke="#262626" stroke-width="1"/>
<line x1="158.9" y1="528.3" x2="158.9" y2="531.3" stroke="#262626" stroke-width="1"/>
<line x1="170.8" y1="528.3" x2="170.8" y2="531.3" stroke="#262626" stroke-width="1"/>
<line x1="182.7" y1="528.3" x2="182.7" y2="531.3" stroke="#262626" stroke-width="1"/>
<line x1="194.6" y1="528.3" x2="194.6" y2="531.3" stroke="#262626" stroke-width="1"/>
<line x1="206.5" y1="528.3" x2="206.5" y2="531.3" stroke="#262626" stroke-width="1"/>
<line x1="218.4" y1="528.3" x2="218.4" y2="531.3" stroke="#262626" stroke-width="1"/>
<line x1="230.3" y1="528.3" x2="230.3" y2="531.3" stroke="#262626" stroke-width="1"/>
<rect x="51.8" y="527.9" width="11.9" height="0.4" fill="#5B9BD5" stroke="#000" stroke-width="0.8"/>
<rect x="63.7" y="526.3" width="11.9" height="2" fill="#5B9BD5" stroke="#000" stroke-width="0.8"/>
<line x1="67.4" y1="526.3" x2="71.9" y2="526.3" stroke="#000" stroke-width="1.3"/>
<rect x="75.6" y="526.3" width="11.9" height="2" fill="#5B9BD5" stroke="#000" stroke-width="0.8"/>
<line x1="81.55" y1="525.5" x2="81.55" y2="527.1" stroke="#000" stroke-width="0.9"/>
<line x1="79.3" y1="525.5" x2="83.8" y2="525.5" stroke="#000" stroke-width="0.9"/>
<line x1="79.3" y1="527.1" x2="83.8" y2="527.1" stroke="#000" stroke-width="0.9"/>
<rect x="87.5" y="525.3" width="11.9" height="3" fill="#5B9BD5" stroke="#000" stroke-width="0.8"/>
<line x1="93.45" y1="524.9" x2="93.45" y2="525.7" stroke="#000" stroke-width="0.9"/>
<line x1="91.2" y1="524.9" x2="95.7" y2="524.9" stroke="#000" stroke-width="0.9"/>
<line x1="91.2" y1="525.7" x2="95.7" y2="525.7" stroke="#000" stroke-width="0.9"/>
<rect x="99.4" y="516.1" width="11.9" height="12.2" fill="#5B9BD5" stroke="#000" stroke-width="0.8"/>
<line x1="105.35" y1="515.3" x2="105.35" y2="516.9" stroke="#000" stroke-width="0.9"/>
<line x1="103.1" y1="515.3" x2="107.6" y2="515.3" stroke="#000" stroke-width="0.9"/>
<line x1="103.1" y1="516.9" x2="107.6" y2="516.9" stroke="#000" stroke-width="0.9"/>
<rect x="111.3" y="439.3" width="11.9" height="89" fill="#5B9BD5" stroke="#000" stroke-width="0.8"/>
<line x1="117.25" y1="438.3" x2="117.25" y2="440.3" stroke="#000" stroke-width="0.9"/>
<line x1="115" y1="438.3" x2="119.5" y2="438.3" stroke="#000" stroke-width="0.9"/>
<line x1="115" y1="440.3" x2="119.5" y2="440.3" stroke="#000" stroke-width="0.9"/>
<rect x="123.2" y="485.9" width="11.9" height="42.4" fill="#5B9BD5" stroke="#000" stroke-width="0.8"/>
<line x1="129.15" y1="484.3" x2="129.15" y2="487.5" stroke="#000" stroke-width="0.9"/>
<line x1="126.9" y1="484.3" x2="131.4" y2="484.3" stroke="#000" stroke-width="0.9"/>
<line x1="126.9" y1="487.5" x2="131.4" y2="487.5" stroke="#000" stroke-width="0.9"/>
<rect x="147" y="527.9" width="11.9" height="0.4" fill="#ED7D31" stroke="#000" stroke-width="0.8"/>
<rect x="158.9" y="524.6" width="11.9" height="3.7" fill="#ED7D31" stroke="#000" stroke-width="0.8"/>
<line x1="164.85" y1="524" x2="164.85" y2="525.2" stroke="#000" stroke-width="0.9"/>
<line x1="162.6" y1="524" x2="167.1" y2="524" stroke="#000" stroke-width="0.9"/>
<line x1="162.6" y1="525.2" x2="167.1" y2="525.2" stroke="#000" stroke-width="0.9"/>
<rect x="170.8" y="527.3" width="11.9" height="1" fill="#ED7D31" stroke="#000" stroke-width="0.8"/>
<line x1="174.5" y1="527.3" x2="179" y2="527.3" stroke="#000" stroke-width="1.3"/>
<rect x="182.7" y="526.8" width="11.9" height="1.5" fill="#ED7D31" stroke="#000" stroke-width="0.8"/>
<line x1="188.65" y1="526.2" x2="188.65" y2="527.4" stroke="#000" stroke-width="0.9"/>
<line x1="186.4" y1="526.2" x2="190.9" y2="526.2" stroke="#000" stroke-width="0.9"/>
<line x1="186.4" y1="527.4" x2="190.9" y2="527.4" stroke="#000" stroke-width="0.9"/>
<rect x="194.6" y="522.6" width="11.9" height="5.7" fill="#ED7D31" stroke="#000" stroke-width="0.8"/>
<line x1="200.55" y1="521.6" x2="200.55" y2="523.6" stroke="#000" stroke-width="0.9"/>
<line x1="198.3" y1="521.6" x2="202.8" y2="521.6" stroke="#000" stroke-width="0.9"/>
<line x1="198.3" y1="523.6" x2="202.8" y2="523.6" stroke="#000" stroke-width="0.9"/>
<rect x="206.5" y="462.3" width="11.9" height="66" fill="#ED7D31" stroke="#000" stroke-width="0.8"/>
<line x1="212.45" y1="458.9" x2="212.45" y2="465.7" stroke="#000" stroke-width="0.9"/>
<line x1="210.2" y1="458.9" x2="214.7" y2="458.9" stroke="#000" stroke-width="0.9"/>
<line x1="210.2" y1="465.7" x2="214.7" y2="465.7" stroke="#000" stroke-width="0.9"/>
<rect x="218.4" y="502.1" width="11.9" height="26.2" fill="#ED7D31" stroke="#000" stroke-width="0.8"/>
<line x1="224.35" y1="500.3" x2="224.35" y2="503.9" stroke="#000" stroke-width="0.9"/>
<line x1="222.1" y1="500.3" x2="226.6" y2="500.3" stroke="#000" stroke-width="0.9"/>
<line x1="222.1" y1="503.9" x2="226.6" y2="503.9" stroke="#000" stroke-width="0.9"/>
<text x="57.75" y="538.9" font-size="9.3" text-anchor="middle">1</text>
<text x="69.65" y="538.9" font-size="9.3" text-anchor="middle">2</text>
<text x="81.55" y="538.9" font-size="9.3" text-anchor="middle">3</text>
<text x="93.45" y="538.9" font-size="9.3" text-anchor="middle">4</text>
<text x="105.35" y="538.9" font-size="9.3" text-anchor="middle">5</text>
<text x="117.25" y="538.9" font-size="9.3" text-anchor="middle">6</text>
<text x="129.15" y="538.9" font-size="9.3" text-anchor="middle">7</text>
<text x="152.95" y="538.9" font-size="9.3" text-anchor="middle">8</text>
<text x="164.85" y="538.9" font-size="9.3" text-anchor="middle">9</text>
<text x="176.75" y="538.9" font-size="9.3" text-anchor="middle">10</text>
<text x="188.65" y="538.9" font-size="9.3" text-anchor="middle">11</text>
<text x="200.55" y="538.9" font-size="9.3" text-anchor="middle">12</text>
<text x="212.45" y="538.9" font-size="9.3" text-anchor="middle">13</text>
<text x="224.35" y="538.9" font-size="9.3" text-anchor="middle">14</text>
<text x="25.6" y="477" font-size="9.75" text-anchor="middle" font-weight="normal" transform="rotate(-90 25.6 477)">Relative Luciferase activity</text>
<rect x="62.5" y="426.3" width="6.2" height="6.2" fill="#5B9BD5" stroke="#1a1a1a" stroke-width="0.75"/>
<text x="73" y="432.6" font-size="9.5">DMSO</text>
<rect x="110.1" y="426.3" width="6.2" height="6.2" fill="#ED7D31" stroke="#1a1a1a" stroke-width="0.75"/>
<text x="120.3" y="432.6" font-size="9.5">PD0325901</text>
<text x="253.9" y="406" font-size="16.8" transform="translate(253.9 406) scale(1 1.06) translate(-253.9 -406)">(h)</text>
<line x1="310" y1="428.3" x2="310" y2="528.8" stroke="#262626" stroke-width="1.2"/>
<line x1="306.5" y1="528.3" x2="310" y2="528.3" stroke="#262626" stroke-width="1.1"/>
<text x="301.2" y="531.6" font-size="9.5" text-anchor="end">0</text>
<line x1="306.5" y1="508.3" x2="310" y2="508.3" stroke="#262626" stroke-width="1.1"/>
<text x="301.2" y="511.6" font-size="9.5" text-anchor="end">10</text>
<line x1="306.5" y1="488.3" x2="310" y2="488.3" stroke="#262626" stroke-width="1.1"/>
<text x="301.2" y="491.6" font-size="9.5" text-anchor="end">20</text>
<line x1="306.5" y1="468.3" x2="310" y2="468.3" stroke="#262626" stroke-width="1.1"/>
<text x="301.2" y="471.6" font-size="9.5" text-anchor="end">30</text>
<line x1="306.5" y1="448.3" x2="310" y2="448.3" stroke="#262626" stroke-width="1.1"/>
<text x="301.2" y="451.6" font-size="9.5" text-anchor="end">40</text>
<line x1="306.5" y1="428.3" x2="310" y2="428.3" stroke="#262626" stroke-width="1.1"/>
<text x="301.2" y="431.6" font-size="9.5" text-anchor="end">50</text>
<line x1="306.5" y1="528.3" x2="488.9" y2="528.3" stroke="#262626" stroke-width="1.1"/>
<line x1="310.4" y1="528.3" x2="310.4" y2="531.3" stroke="#262626" stroke-width="1"/>
<line x1="322.3" y1="528.3" x2="322.3" y2="531.3" stroke="#262626" stroke-width="1"/>
<line x1="334.2" y1="528.3" x2="334.2" y2="531.3" stroke="#262626" stroke-width="1"/>
<line x1="346.1" y1="528.3" x2="346.1" y2="531.3" stroke="#262626" stroke-width="1"/>
<line x1="358" y1="528.3" x2="358" y2="531.3" stroke="#262626" stroke-width="1"/>
<line x1="369.9" y1="528.3" x2="369.9" y2="531.3" stroke="#262626" stroke-width="1"/>
<line x1="381.8" y1="528.3" x2="381.8" y2="531.3" stroke="#262626" stroke-width="1"/>
<line x1="393.7" y1="528.3" x2="393.7" y2="531.3" stroke="#262626" stroke-width="1"/>
<line x1="405.6" y1="528.3" x2="405.6" y2="531.3" stroke="#262626" stroke-width="1"/>
<line x1="417.5" y1="528.3" x2="417.5" y2="531.3" stroke="#262626" stroke-width="1"/>
<line x1="429.4" y1="528.3" x2="429.4" y2="531.3" stroke="#262626" stroke-width="1"/>
<line x1="441.3" y1="528.3" x2="441.3" y2="531.3" stroke="#262626" stroke-width="1"/>
<line x1="453.2" y1="528.3" x2="453.2" y2="531.3" stroke="#262626" stroke-width="1"/>
<line x1="465.1" y1="528.3" x2="465.1" y2="531.3" stroke="#262626" stroke-width="1"/>
<line x1="477" y1="528.3" x2="477" y2="531.3" stroke="#262626" stroke-width="1"/>
<line x1="488.9" y1="528.3" x2="488.9" y2="531.3" stroke="#262626" stroke-width="1"/>
<rect x="310.4" y="527.9" width="11.9" height="0.4" fill="#5B9BD5" stroke="#000" stroke-width="0.8"/>
<rect x="322.3" y="526.3" width="11.9" height="2" fill="#5B9BD5" stroke="#000" stroke-width="0.8"/>
<rect x="334.2" y="525.6" width="11.9" height="2.7" fill="#5B9BD5" stroke="#000" stroke-width="0.8"/>
<rect x="346.1" y="523.6" width="11.9" height="4.7" fill="#5B9BD5" stroke="#000" stroke-width="0.8"/>
<line x1="352.05" y1="522.8" x2="352.05" y2="524.4" stroke="#000" stroke-width="0.9"/>
<line x1="349.8" y1="522.8" x2="354.3" y2="522.8" stroke="#000" stroke-width="0.9"/>
<line x1="349.8" y1="524.4" x2="354.3" y2="524.4" stroke="#000" stroke-width="0.9"/>
<rect x="358" y="496.1" width="11.9" height="32.2" fill="#5B9BD5" stroke="#000" stroke-width="0.8"/>
<line x1="363.95" y1="492.3" x2="363.95" y2="499.9" stroke="#000" stroke-width="0.9"/>
<line x1="361.7" y1="492.3" x2="366.2" y2="492.3" stroke="#000" stroke-width="0.9"/>
<line x1="361.7" y1="499.9" x2="366.2" y2="499.9" stroke="#000" stroke-width="0.9"/>
<rect x="369.9" y="473.3" width="11.9" height="55" fill="#5B9BD5" stroke="#000" stroke-width="0.8"/>
<line x1="375.85" y1="470.9" x2="375.85" y2="475.7" stroke="#000" stroke-width="0.9"/>
<line x1="373.6" y1="470.9" x2="378.1" y2="470.9" stroke="#000" stroke-width="0.9"/>
<line x1="373.6" y1="475.7" x2="378.1" y2="475.7" stroke="#000" stroke-width="0.9"/>
<rect x="381.8" y="437.3" width="11.9" height="91" fill="#5B9BD5" stroke="#000" stroke-width="0.8"/>
<line x1="387.75" y1="432.9" x2="387.75" y2="441.7" stroke="#000" stroke-width="0.9"/>
<line x1="385.5" y1="432.9" x2="390" y2="432.9" stroke="#000" stroke-width="0.9"/>
<line x1="385.5" y1="441.7" x2="390" y2="441.7" stroke="#000" stroke-width="0.9"/>
<rect x="405.6" y="527.9" width="11.9" height="0.4" fill="#ED7D31" stroke="#000" stroke-width="0.8"/>
<rect x="417.5" y="523.8" width="11.9" height="4.5" fill="#ED7D31" stroke="#000" stroke-width="0.8"/>
<line x1="423.45" y1="523.2" x2="423.45" y2="524.4" stroke="#000" stroke-width="0.9"/>
<line x1="421.2" y1="523.2" x2="425.7" y2="523.2" stroke="#000" stroke-width="0.9"/>
<line x1="421.2" y1="524.4" x2="425.7" y2="524.4" stroke="#000" stroke-width="0.9"/>
<rect x="429.4" y="524.5" width="11.9" height="3.8" fill="#ED7D31" stroke="#000" stroke-width="0.8"/>
<line x1="435.35" y1="522.5" x2="435.35" y2="526.5" stroke="#000" stroke-width="0.9"/>
<line x1="433.1" y1="522.5" x2="437.6" y2="522.5" stroke="#000" stroke-width="0.9"/>
<line x1="433.1" y1="526.5" x2="437.6" y2="526.5" stroke="#000" stroke-width="0.9"/>
<rect x="441.3" y="526.3" width="11.9" height="2" fill="#ED7D31" stroke="#000" stroke-width="0.8"/>
<line x1="447.25" y1="525.7" x2="447.25" y2="526.9" stroke="#000" stroke-width="0.9"/>
<line x1="445" y1="525.7" x2="449.5" y2="525.7" stroke="#000" stroke-width="0.9"/>
<line x1="445" y1="526.9" x2="449.5" y2="526.9" stroke="#000" stroke-width="0.9"/>
<rect x="453.2" y="512.7" width="11.9" height="15.6" fill="#ED7D31" stroke="#000" stroke-width="0.8"/>
<line x1="459.15" y1="511.9" x2="459.15" y2="513.5" stroke="#000" stroke-width="0.9"/>
<line x1="456.9" y1="511.9" x2="461.4" y2="511.9" stroke="#000" stroke-width="0.9"/>
<line x1="456.9" y1="513.5" x2="461.4" y2="513.5" stroke="#000" stroke-width="0.9"/>
<rect x="465.1" y="491.7" width="11.9" height="36.6" fill="#ED7D31" stroke="#000" stroke-width="0.8"/>
<rect x="477" y="466.5" width="11.9" height="61.8" fill="#ED7D31" stroke="#000" stroke-width="0.8"/>
<line x1="482.95" y1="466.1" x2="482.95" y2="466.9" stroke="#000" stroke-width="0.9"/>
<line x1="480.7" y1="466.1" x2="485.2" y2="466.1" stroke="#000" stroke-width="0.9"/>
<line x1="480.7" y1="466.9" x2="485.2" y2="466.9" stroke="#000" stroke-width="0.9"/>
<text x="316.35" y="538.9" font-size="9.3" text-anchor="middle">1</text>
<text x="328.25" y="538.9" font-size="9.3" text-anchor="middle">2</text>
<text x="340.15" y="538.9" font-size="9.3" text-anchor="middle">3</text>
<text x="352.05" y="538.9" font-size="9.3" text-anchor="middle">4</text>
<text x="363.95" y="538.9" font-size="9.3" text-anchor="middle">5</text>
<text x="375.85" y="538.9" font-size="9.3" text-anchor="middle">6</text>
<text x="387.75" y="538.9" font-size="9.3" text-anchor="middle">7</text>
<text x="411.55" y="538.9" font-size="9.3" text-anchor="middle">8</text>
<text x="423.45" y="538.9" font-size="9.3" text-anchor="middle">9</text>
<text x="435.35" y="538.9" font-size="9.3" text-anchor="middle">10</text>
<text x="447.25" y="538.9" font-size="9.3" text-anchor="middle">11</text>
<text x="459.15" y="538.9" font-size="9.3" text-anchor="middle">12</text>
<text x="471.05" y="538.9" font-size="9.3" text-anchor="middle">13</text>
<text x="482.95" y="538.9" font-size="9.3" text-anchor="middle">14</text>
<text x="285.9" y="477" font-size="9.75" text-anchor="middle" font-weight="normal" transform="rotate(-90 285.9 477)">Relative Luciferase activity</text>
<rect x="321.3" y="426.3" width="6.2" height="6.2" fill="#5B9BD5" stroke="#1a1a1a" stroke-width="0.75"/>
<text x="331.8" y="432.6" font-size="9.5">DMSO</text>
<rect x="368.9" y="426.3" width="6.2" height="6.2" fill="#ED7D31" stroke="#1a1a1a" stroke-width="0.75"/>
<text x="379.1" y="432.6" font-size="9.5">PD0325901</text>
<text x="99.35" y="553.8" font-size="9.6" text-anchor="middle">DMSO</text>
<text x="184.95" y="553.8" font-size="9.6" text-anchor="middle">PD0325901(1μM)</text>
<line x1="58.2" y1="558.7" x2="140.5" y2="558.7" stroke="#111" stroke-width="1.1"/>
<line x1="143.7" y1="558.7" x2="226.2" y2="558.7" stroke="#111" stroke-width="1.1"/>
<text x="85.95" y="569.6" font-size="9.6" text-anchor="middle">vec</text>
<line x1="70.7" y1="573.3" x2="101.2" y2="573.3" stroke="#111" stroke-width="1.1"/>
<text x="123.6" y="569.6" font-size="9.6" text-anchor="middle">UHRF1</text>
<line x1="108" y1="573.3" x2="139.2" y2="573.3" stroke="#111" stroke-width="1.1"/>
<text x="172.75" y="569.6" font-size="9.6" text-anchor="middle">vec</text>
<line x1="157.5" y1="573.3" x2="188" y2="573.3" stroke="#111" stroke-width="1.1"/>
<text x="209.75" y="569.6" font-size="9.6" text-anchor="middle">UHRF1</text>
<line x1="194.5" y1="573.3" x2="225" y2="573.3" stroke="#111" stroke-width="1.1"/>
<text x="5" y="570.2" font-size="9.6">PGL3-basic</text>
<text x="5" y="582.9" font-size="9.6">Flag-E2F1</text>
<text x="5" y="593" font-size="9.6">Flag-SP1</text>
<rect x="59.5" y="579.3" width="3.4" height="1.6" fill="#111"/>
<rect x="59.5" y="589.3" width="3.4" height="1.6" fill="#111"/>
<rect x="70.8" y="579.3" width="3.4" height="1.6" fill="#111"/>
<rect x="70.8" y="589.3" width="3.4" height="1.6" fill="#111"/>
<rect x="82.7" y="579.2" width="6" height="1.6" fill="#111"/>
<rect x="84.9" y="577" width="1.6" height="6" fill="#111"/>
<rect x="84" y="589.3" width="3.4" height="1.6" fill="#111"/>
<rect x="97.5" y="579.3" width="3.4" height="1.6" fill="#111"/>
<rect x="96.2" y="589.2" width="6" height="1.6" fill="#111"/>
<rect x="98.4" y="587" width="1.6" height="6" fill="#111"/>
<rect x="109.5" y="579.3" width="3.4" height="1.6" fill="#111"/>
<rect x="109.5" y="589.3" width="3.4" height="1.6" fill="#111"/>
<rect x="120.2" y="579.2" width="6" height="1.6" fill="#111"/>
<rect x="122.4" y="577" width="1.6" height="6" fill="#111"/>
<rect x="121.5" y="589.3" width="3.4" height="1.6" fill="#111"/>
<rect x="134.3" y="579.3" width="3.4" height="1.6" fill="#111"/>
<rect x="133" y="589.2" width="6" height="1.6" fill="#111"/>
<rect x="135.2" y="587" width="1.6" height="6" fill="#111"/>
<rect x="147.8" y="579.3" width="3.4" height="1.6" fill="#111"/>
<rect x="147.8" y="589.3" width="3.4" height="1.6" fill="#111"/>
<rect x="159.3" y="579.3" width="3.4" height="1.6" fill="#111"/>
<rect x="159.3" y="589.3" width="3.4" height="1.6" fill="#111"/>
<rect x="169.8" y="579.2" width="6" height="1.6" fill="#111"/>
<rect x="172" y="577" width="1.6" height="6" fill="#111"/>
<rect x="171.1" y="589.3" width="3.4" height="1.6" fill="#111"/>
<rect x="182.8" y="579.3" width="3.4" height="1.6" fill="#111"/>
<rect x="181.5" y="589.2" width="6" height="1.6" fill="#111"/>
<rect x="183.7" y="587" width="1.6" height="6" fill="#111"/>
<rect x="197" y="579.3" width="3.4" height="1.6" fill="#111"/>
<rect x="197" y="589.3" width="3.4" height="1.6" fill="#111"/>
<rect x="207.8" y="579.2" width="6" height="1.6" fill="#111"/>
<rect x="210" y="577" width="1.6" height="6" fill="#111"/>
<rect x="209.1" y="589.3" width="3.4" height="1.6" fill="#111"/>
<rect x="221.8" y="579.3" width="3.4" height="1.6" fill="#111"/>
<rect x="220.5" y="589.2" width="6" height="1.6" fill="#111"/>
<rect x="222.7" y="587" width="1.6" height="6" fill="#111"/>
<text x="52.8" y="613.8" font-size="9.6" text-anchor="end">Flag</text>
<text x="52.8" y="635.2" font-size="9.6" text-anchor="end">P-ERK1/2</text>
<text x="52.8" y="651.4" font-size="9.6" text-anchor="end">ERK1/2</text>
<text x="52.8" y="668.9" font-size="9.6" text-anchor="end">GAPDH</text>
<rect x="55" y="596.3" width="175" height="25.7" fill="#d7d7d7" stroke="#222" stroke-width="1.6"/>
<rect x="55" y="625.8" width="175" height="13.6" fill="#d7d7d7" stroke="#222" stroke-width="1.6"/>
<rect x="55" y="642.5" width="175" height="13.9" fill="#d7d7d7" stroke="#222" stroke-width="1.6"/>
<rect x="55" y="659.6" width="175" height="13.7" fill="#d7d7d7" stroke="#222" stroke-width="1.6"/>
<rect x="56" y="627" width="173" height="6" fill="#e2e2e2" opacity="0.25"/>
<path d="M82.4 617.3 L90.8 617.3" stroke="#0c0c0c" stroke-width="2" stroke-linecap="round" opacity="0.95" filter="url(#bl)"/>
<path d="M120.2 617.3 L128.6 617.3" stroke="#0c0c0c" stroke-width="2" stroke-linecap="round" opacity="0.95" filter="url(#bl)"/>
<path d="M168.6 617.3 L177 617.3" stroke="#0c0c0c" stroke-width="2" stroke-linecap="round" opacity="0.7" filter="url(#bl)"/>
<path d="M206.6 617.3 L215 617.3" stroke="#0c0c0c" stroke-width="2" stroke-linecap="round" opacity="0.9" filter="url(#bl)"/>
<rect x="94.6" y="602" width="10" height="18.5" fill="url(#sm)" opacity="0.8"/>
<rect x="95.6" y="596.8" width="8" height="2.2" fill="#e6e6e6" opacity="0.3" filter="url(#bl)"/>
<path d="M95.3 599 Q99.6 600.1 103.9 599 L103.9 599 Q105.7 601.5 103.9 604 Q99.6 603.1 95.3 604 L95.3 604 Q93.5 601.5 95.3 599 Z" fill="#050505" filter="url(#bl)"/>
<rect x="131.3" y="602" width="10" height="18.5" fill="url(#sm)" opacity="0.8"/>
<rect x="132.3" y="597.7" width="8" height="2.2" fill="#e6e6e6" opacity="0.3" filter="url(#bl)"/>
<path d="M132 599.9 Q136.3 601 140.6 599.9 L140.6 599.9 Q142.4 602.4 140.6 604.9 Q136.3 604 132 604.9 L132 604.9 Q130.2 602.4 132 599.9 Z" fill="#050505" filter="url(#bl)"/>
<rect x="180" y="602" width="10" height="18.5" fill="url(#sm)" opacity="0.8"/>
<rect x="181" y="597.9" width="8" height="2.2" fill="#e6e6e6" opacity="0.3" filter="url(#bl)"/>
<path d="M180.7 600.1 Q185 601.2 189.3 600.1 L189.3 600.1 Q191.1 602.6 189.3 605.1 Q185 604.2 180.7 605.1 L180.7 605.1 Q178.9 602.6 180.7 600.1 Z" fill="#050505" filter="url(#bl)"/>
<rect x="218.5" y="602" width="10" height="18.5" fill="url(#sm)" opacity="0.8"/>
<rect x="219.25" y="598.3" width="8.5" height="2.2" fill="#e6e6e6" opacity="0.3" filter="url(#bl)"/>
<path d="M218.95 600.5 Q223.5 601.6 228.05 600.5 L228.05 600.5 Q229.85 603 228.05 605.5 Q223.5 604.6 218.95 605.5 L218.95 605.5 Q217.15 603 218.95 600.5 Z" fill="#050505" filter="url(#bl)"/>
<path d="M56.25 633 L66.15 635.2" stroke="#0c0c0c" stroke-width="2.4" stroke-linecap="round" opacity="0.85" filter="url(#bl)"/>
<path d="M67.55 634.6 L77.45 635.3" stroke="#0c0c0c" stroke-width="2.4" stroke-linecap="round" opacity="0.78" filter="url(#bl)"/>
<path d="M80.75 635.6 L90.65 636.2" stroke="#0c0c0c" stroke-width="2.4" stroke-linecap="round" opacity="0.68" filter="url(#bl)"/>
<path d="M94.25 635.9 L104.15 636.3" stroke="#0c0c0c" stroke-width="2.4" stroke-linecap="round" opacity="0.6" filter="url(#bl)"/>
<path d="M106.25 636.4 L116.15 636.8" stroke="#0c0c0c" stroke-width="2.4" stroke-linecap="round" opacity="0.8" filter="url(#bl)"/>
<path d="M118.25 636.5 L128.15 636.7" stroke="#0c0c0c" stroke-width="2.4" stroke-linecap="round" opacity="0.85" filter="url(#bl)"/>
<path d="M131.05 636.5 L140.95 636.7" stroke="#0c0c0c" stroke-width="2.4" stroke-linecap="round" opacity="0.88" filter="url(#bl)"/>
<path d="M55.8 629.5 L66.6 629.5" stroke="#0c0c0c" stroke-width="1.5" stroke-linecap="round" opacity="0.22" filter="url(#bl)"/>
<path d="M67.1 630.3 L77.9 630.3" stroke="#0c0c0c" stroke-width="1.5" stroke-linecap="round" opacity="0.12" filter="url(#bl)"/>
<path d="M80.3 630.8 L91.1 630.8" stroke="#0c0c0c" stroke-width="1.5" stroke-linecap="round" opacity="0.1" filter="url(#bl)"/>
<path d="M93.8 631 L104.6 631" stroke="#0c0c0c" stroke-width="1.5" stroke-linecap="round" opacity="0.08" filter="url(#bl)"/>
<path d="M105.8 630.8 L116.6 630.8" stroke="#0c0c0c" stroke-width="1.5" stroke-linecap="round" opacity="0.15" filter="url(#bl)"/>
<path d="M117.8 630.6 L128.6 630.6" stroke="#0c0c0c" stroke-width="1.5" stroke-linecap="round" opacity="0.22" filter="url(#bl)"/>
<path d="M130.6 630.6 L141.4 630.6" stroke="#0c0c0c" stroke-width="1.5" stroke-linecap="round" opacity="0.22" filter="url(#bl)"/>
<path d="M144.55 633.3 L154.45 633.3" stroke="#f4f4f4" stroke-width="2.4" stroke-linecap="round" opacity="0.45" filter="url(#bl)"/>
<path d="M156.05 633.3 L165.95 633.3" stroke="#f4f4f4" stroke-width="2.4" stroke-linecap="round" opacity="0.45" filter="url(#bl)"/>
<path d="M167.85 633.3 L177.75 633.3" stroke="#f4f4f4" stroke-width="2.4" stroke-linecap="round" opacity="0.45" filter="url(#bl)"/>
<path d="M179.55 633.3 L189.45 633.3" stroke="#f4f4f4" stroke-width="2.4" stroke-linecap="round" opacity="0.45" filter="url(#bl)"/>
<path d="M193.75 633.3 L203.65 633.3" stroke="#f4f4f4" stroke-width="2.4" stroke-linecap="round" opacity="0.45" filter="url(#bl)"/>
<path d="M205.85 633.3 L215.75 633.3" stroke="#f4f4f4" stroke-width="2.4" stroke-linecap="round" opacity="0.45" filter="url(#bl)"/>
<path d="M218.55 633.3 L228.45 633.3" stroke="#f4f4f4" stroke-width="2.4" stroke-linecap="round" opacity="0.45" filter="url(#bl)"/>
<path d="M56.1 644.6 L66.3 646.6" stroke="#0c0c0c" stroke-width="2.1" stroke-linecap="round" opacity="0.82" filter="url(#bl)"/>
<path d="M67.4 646.2 L77.6 647.3" stroke="#0c0c0c" stroke-width="2.1" stroke-linecap="round" opacity="0.82" filter="url(#bl)"/>
<path d="M80.6 647.8 L90.8 647.8" stroke="#0c0c0c" stroke-width="2.1" stroke-linecap="round" opacity="0.82" filter="url(#bl)"/>
<path d="M94.1 647.8 L104.3 647.8" stroke="#0c0c0c" stroke-width="2.1" stroke-linecap="round" opacity="0.82" filter="url(#bl)"/>
<path d="M106.1 647.8 L116.3 647.8" stroke="#0c0c0c" stroke-width="2.1" stroke-linecap="round" opacity="0.82" filter="url(#bl)"/>
<path d="M118.1 647.9 L128.3 647.9" stroke="#0c0c0c" stroke-width="2.1" stroke-linecap="round" opacity="0.82" filter="url(#bl)"/>
<path d="M130.9 647.9 L141.1 647.9" stroke="#0c0c0c" stroke-width="2.1" stroke-linecap="round" opacity="0.82" filter="url(#bl)"/>
<path d="M144.4 648.1 L154.6 648.1" stroke="#0c0c0c" stroke-width="2.1" stroke-linecap="round" opacity="0.82" filter="url(#bl)"/>
<path d="M155.9 648.2 L166.1 648.2" stroke="#0c0c0c" stroke-width="2.1" stroke-linecap="round" opacity="0.82" filter="url(#bl)"/>
<path d="M167.7 648.5 L177.9 648.5" stroke="#0c0c0c" stroke-width="2.1" stroke-linecap="round" opacity="0.82" filter="url(#bl)"/>
<path d="M179.4 648.5 L189.6 648.5" stroke="#0c0c0c" stroke-width="2.1" stroke-linecap="round" opacity="0.82" filter="url(#bl)"/>
<path d="M193.6 648.4 L203.8 648.4" stroke="#0c0c0c" stroke-width="2.1" stroke-linecap="round" opacity="0.82" filter="url(#bl)"/>
<path d="M205.7 647.8 L215.9 647" stroke="#0c0c0c" stroke-width="2.1" stroke-linecap="round" opacity="0.82" filter="url(#bl)"/>
<path d="M218.4 645.6 L228.6 644.2" stroke="#0c0c0c" stroke-width="2.1" stroke-linecap="round" opacity="0.82" filter="url(#bl)"/>
<path d="M56.3 650.2 L66.1 652.1" stroke="#0c0c0c" stroke-width="2.5" stroke-linecap="round" opacity="0.93" filter="url(#bl)"/>
<path d="M67.6 651.4 L77.4 652.8" stroke="#0c0c0c" stroke-width="2.5" stroke-linecap="round" opacity="0.93" filter="url(#bl)"/>
<path d="M80.8 653.3 L90.6 653.3" stroke="#0c0c0c" stroke-width="2.5" stroke-linecap="round" opacity="0.93" filter="url(#bl)"/>
<path d="M94.3 653.4 L104.1 653.4" stroke="#0c0c0c" stroke-width="2.5" stroke-linecap="round" opacity="0.93" filter="url(#bl)"/>
<path d="M106.3 653.4 L116.1 653.4" stroke="#0c0c0c" stroke-width="2.5" stroke-linecap="round" opacity="0.93" filter="url(#bl)"/>
<path d="M118.3 653.4 L128.1 653.4" stroke="#0c0c0c" stroke-width="2.5" stroke-linecap="round" opacity="0.93" filter="url(#bl)"/>
<path d="M131.1 653.4 L140.9 653.4" stroke="#0c0c0c" stroke-width="2.5" stroke-linecap="round" opacity="0.93" filter="url(#bl)"/>
<path d="M144.6 653.3 L154.4 653.3" stroke="#0c0c0c" stroke-width="2.5" stroke-linecap="round" opacity="0.93" filter="url(#bl)"/>
<path d="M156.1 653.2 L165.9 653.2" stroke="#0c0c0c" stroke-width="2.5" stroke-linecap="round" opacity="0.93" filter="url(#bl)"/>
<path d="M167.9 653.1 L177.7 653.1" stroke="#0c0c0c" stroke-width="2.5" stroke-linecap="round" opacity="0.93" filter="url(#bl)"/>
<path d="M179.6 653.4 L189.4 653.4" stroke="#0c0c0c" stroke-width="2.5" stroke-linecap="round" opacity="0.93" filter="url(#bl)"/>
<path d="M193.8 653 L203.6 653" stroke="#0c0c0c" stroke-width="2.5" stroke-linecap="round" opacity="0.93" filter="url(#bl)"/>
<path d="M205.9 652.4 L215.7 651.4" stroke="#0c0c0c" stroke-width="2.5" stroke-linecap="round" opacity="0.93" filter="url(#bl)"/>
<path d="M218.6 649.9 L228.4 648.6" stroke="#0c0c0c" stroke-width="2.5" stroke-linecap="round" opacity="0.93" filter="url(#bl)"/>
<path d="M56.5 663 L65.9 665.4" stroke="#0c0c0c" stroke-width="2.9" stroke-linecap="round" opacity="0.97" filter="url(#bl)"/>
<path d="M67.8 665.7 L77.2 666.4" stroke="#0c0c0c" stroke-width="2.9" stroke-linecap="round" opacity="0.97" filter="url(#bl)"/>
<path d="M81 666.8 L90.4 666.8" stroke="#0c0c0c" stroke-width="2.9" stroke-linecap="round" opacity="0.97" filter="url(#bl)"/>
<path d="M94.5 667.1 L103.9 667.1" stroke="#0c0c0c" stroke-width="2.9" stroke-linecap="round" opacity="0.97" filter="url(#bl)"/>
<path d="M106.5 667.6 L115.9 667.6" stroke="#0c0c0c" stroke-width="2.9" stroke-linecap="round" opacity="0.97" filter="url(#bl)"/>
<path d="M118.5 667.9 L127.9 667.9" stroke="#0c0c0c" stroke-width="2.9" stroke-linecap="round" opacity="0.97" filter="url(#bl)"/>
<path d="M131.3 668 L140.7 668" stroke="#0c0c0c" stroke-width="2.9" stroke-linecap="round" opacity="0.97" filter="url(#bl)"/>
<path d="M144.8 668.2 L154.2 668.2" stroke="#0c0c0c" stroke-width="2.9" stroke-linecap="round" opacity="0.97" filter="url(#bl)"/>
<path d="M156.3 668.4 L165.7 668.4" stroke="#0c0c0c" stroke-width="2.9" stroke-linecap="round" opacity="0.97" filter="url(#bl)"/>
<path d="M168.1 668.7 L177.5 668.7" stroke="#0c0c0c" stroke-width="2.9" stroke-linecap="round" opacity="0.97" filter="url(#bl)"/>
<path d="M179.8 669.2 L189.2 669.2" stroke="#0c0c0c" stroke-width="2.9" stroke-linecap="round" opacity="0.97" filter="url(#bl)"/>
<path d="M194 668.7 L203.4 668.2" stroke="#0c0c0c" stroke-width="2.9" stroke-linecap="round" opacity="0.97" filter="url(#bl)"/>
<path d="M206.1 667.2 L215.5 665.9" stroke="#0c0c0c" stroke-width="2.9" stroke-linecap="round" opacity="0.97" filter="url(#bl)"/>
<path d="M218.8 664.6 L228.2 663.2" stroke="#0c0c0c" stroke-width="2.9" stroke-linecap="round" opacity="0.97" filter="url(#bl)"/>
<text x="59.2" y="685.6" font-size="10.2" text-anchor="middle" transform="translate(59.2 685.6) scale(0.9 1) translate(-59.2 -685.6)">1</text>
<text x="72.5" y="685.6" font-size="10.2" text-anchor="middle" transform="translate(72.5 685.6) scale(0.9 1) translate(-72.5 -685.6)">2</text>
<text x="84.6" y="685.6" font-size="10.2" text-anchor="middle" transform="translate(84.6 685.6) scale(0.9 1) translate(-84.6 -685.6)">3</text>
<text x="98.4" y="685.6" font-size="10.2" text-anchor="middle" transform="translate(98.4 685.6) scale(0.9 1) translate(-98.4 -685.6)">4</text>
<text x="111.9" y="685.6" font-size="10.2" text-anchor="middle" transform="translate(111.9 685.6) scale(0.9 1) translate(-111.9 -685.6)">5</text>
<text x="123.9" y="685.6" font-size="10.2" text-anchor="middle" transform="translate(123.9 685.6) scale(0.9 1) translate(-123.9 -685.6)">6</text>
<text x="135.5" y="685.6" font-size="10.2" text-anchor="middle" transform="translate(135.5 685.6) scale(0.9 1) translate(-135.5 -685.6)">7</text>
<text x="148.7" y="685.6" font-size="10.2" text-anchor="middle" transform="translate(148.7 685.6) scale(0.9 1) translate(-148.7 -685.6)">8</text>
<text x="162.5" y="685.6" font-size="10.2" text-anchor="middle" transform="translate(162.5 685.6) scale(0.9 1) translate(-162.5 -685.6)">9</text>
<text x="175.5" y="685.6" font-size="10.2" text-anchor="middle" transform="translate(175.5 685.6) scale(0.9 1) translate(-175.5 -685.6)">10</text>
<text x="187.5" y="685.6" font-size="10.2" text-anchor="middle" transform="translate(187.5 685.6) scale(0.9 1) translate(-187.5 -685.6)">11</text>
<text x="201.2" y="685.6" font-size="10.2" text-anchor="middle" transform="translate(201.2 685.6) scale(0.9 1) translate(-201.2 -685.6)">12</text>
<text x="212.5" y="685.6" font-size="10.2" text-anchor="middle" transform="translate(212.5 685.6) scale(0.9 1) translate(-212.5 -685.6)">13</text>
<text x="223.2" y="685.6" font-size="10.2" text-anchor="middle" transform="translate(223.2 685.6) scale(0.9 1) translate(-223.2 -685.6)">14</text>
<text x="358.35" y="553.8" font-size="9.6" text-anchor="middle">DMSO</text>
<text x="445.7" y="553.8" font-size="9.6" text-anchor="middle">PD0325901(1μM)</text>
<line x1="317.5" y1="558.7" x2="399.2" y2="558.7" stroke="#111" stroke-width="1.1"/>
<line x1="404.2" y1="558.7" x2="487.2" y2="558.7" stroke="#111" stroke-width="1.1"/>
<text x="345.25" y="569.6" font-size="9.6" text-anchor="middle">vec</text>
<line x1="330" y1="573.3" x2="360.5" y2="573.3" stroke="#111" stroke-width="1.1"/>
<text x="383.75" y="569.6" font-size="9.6" text-anchor="middle">DNMT1</text>
<line x1="368.5" y1="573.3" x2="399" y2="573.3" stroke="#111" stroke-width="1.1"/>
<text x="432.75" y="569.6" font-size="9.6" text-anchor="middle">vec</text>
<line x1="417.5" y1="573.3" x2="448" y2="573.3" stroke="#111" stroke-width="1.1"/>
<text x="471.5" y="569.6" font-size="9.6" text-anchor="middle">DNMT1</text>
<line x1="455.5" y1="573.3" x2="487.5" y2="573.3" stroke="#111" stroke-width="1.1"/>
<text x="266" y="570.2" font-size="9.6">PGL3-basic</text>
<text x="266" y="582.9" font-size="9.6">Flag-E2F1</text>
<text x="266" y="593" font-size="9.6">Flag-SP1</text>
<rect x="320.8" y="579.3" width="3.4" height="1.6" fill="#111"/>
<rect x="320.8" y="589.3" width="3.4" height="1.6" fill="#111"/>
<rect x="332.2" y="579.3" width="3.4" height="1.6" fill="#111"/>
<rect x="332.2" y="589.3" width="3.4" height="1.6" fill="#111"/>
<rect x="342.2" y="579.2" width="6" height="1.6" fill="#111"/>
<rect x="344.4" y="577" width="1.6" height="6" fill="#111"/>
<rect x="343.5" y="589.3" width="3.4" height="1.6" fill="#111"/>
<rect x="356.3" y="579.3" width="3.4" height="1.6" fill="#111"/>
<rect x="355" y="589.2" width="6" height="1.6" fill="#111"/>
<rect x="357.2" y="587" width="1.6" height="6" fill="#111"/>
<rect x="368.8" y="579.3" width="3.4" height="1.6" fill="#111"/>
<rect x="368.8" y="589.3" width="3.4" height="1.6" fill="#111"/>
<rect x="379" y="579.2" width="6" height="1.6" fill="#111"/>
<rect x="381.2" y="577" width="1.6" height="6" fill="#111"/>
<rect x="380.3" y="589.3" width="3.4" height="1.6" fill="#111"/>
<rect x="393.8" y="579.3" width="3.4" height="1.6" fill="#111"/>
<rect x="392.5" y="589.2" width="6" height="1.6" fill="#111"/>
<rect x="394.7" y="587" width="1.6" height="6" fill="#111"/>
<rect x="407.5" y="579.3" width="3.4" height="1.6" fill="#111"/>
<rect x="407.5" y="589.3" width="3.4" height="1.6" fill="#111"/>
<rect x="419.1" y="579.3" width="3.4" height="1.6" fill="#111"/>
<rect x="419.1" y="589.3" width="3.4" height="1.6" fill="#111"/>
<rect x="429.7" y="579.2" width="6" height="1.6" fill="#111"/>
<rect x="431.9" y="577" width="1.6" height="6" fill="#111"/>
<rect x="431" y="589.3" width="3.4" height="1.6" fill="#111"/>
<rect x="444.3" y="579.3" width="3.4" height="1.6" fill="#111"/>
<rect x="443" y="589.2" width="6" height="1.6" fill="#111"/>
<rect x="445.2" y="587" width="1.6" height="6" fill="#111"/>
<rect x="458.3" y="579.3" width="3.4" height="1.6" fill="#111"/>
<rect x="458.3" y="589.3" width="3.4" height="1.6" fill="#111"/>
<rect x="468.7" y="579.2" width="6" height="1.6" fill="#111"/>
<rect x="470.9" y="577" width="1.6" height="6" fill="#111"/>
<rect x="470" y="589.3" width="3.4" height="1.6" fill="#111"/>
<rect x="482.8" y="579.3" width="3.4" height="1.6" fill="#111"/>
<rect x="481.5" y="589.2" width="6" height="1.6" fill="#111"/>
<rect x="483.7" y="587" width="1.6" height="6" fill="#111"/>
<text x="315" y="613.8" font-size="9.6" text-anchor="end">Flag</text>
<text x="315" y="635.2" font-size="9.6" text-anchor="end">P-ERK1/2</text>
<text x="315" y="651.4" font-size="9.6" text-anchor="end">ERK1/2</text>
<text x="315" y="668.9" font-size="9.6" text-anchor="end">GAPDH</text>
<rect x="317.5" y="596.3" width="175" height="25.7" fill="#d7d7d7" stroke="#222" stroke-width="1.6"/>
<rect x="317.5" y="625.8" width="175" height="13.6" fill="#d7d7d7" stroke="#222" stroke-width="1.6"/>
<rect x="317.5" y="642.5" width="175" height="13.9" fill="#d7d7d7" stroke="#222" stroke-width="1.6"/>
<rect x="317.5" y="659.6" width="175" height="13.7" fill="#d7d7d7" stroke="#222" stroke-width="1.6"/>
<rect x="318.5" y="627" width="173" height="6" fill="#e2e2e2" opacity="0.25"/>
<path d="M342.2 617.4 L350.6 617.4" stroke="#0c0c0c" stroke-width="2" stroke-linecap="round" opacity="0.95" filter="url(#bl)"/>
<path d="M378.7 617.4 L387.1 617.4" stroke="#0c0c0c" stroke-width="2" stroke-linecap="round" opacity="0.95" filter="url(#bl)"/>
<path d="M428.8 617.4 L437.2 617.4" stroke="#0c0c0c" stroke-width="2" stroke-linecap="round" opacity="0.95" filter="url(#bl)"/>
<path d="M466.8 617.4 L475.2 617.4" stroke="#0c0c0c" stroke-width="2" stroke-linecap="round" opacity="0.95" filter="url(#bl)"/>
<rect x="353.7" y="602" width="10" height="18.5" fill="url(#sm)" opacity="0.22"/>
<rect x="354.45" y="599.15" width="8.5" height="2.2" fill="#e6e6e6" opacity="0.3" filter="url(#bl)"/>
<path d="M354.15 601.35 Q358.7 602.45 363.25 601.35 L363.25 601.35 Q365.05 603.8 363.25 606.25 Q358.7 605.35 354.15 606.25 L354.15 606.25 Q352.35 603.8 354.15 601.35 Z" fill="#050505" filter="url(#bl)"/>
<rect x="391.1" y="602" width="10" height="18.5" fill="url(#sm)" opacity="0.22"/>
<rect x="391.7" y="599.15" width="8.8" height="2.2" fill="#e6e6e6" opacity="0.3" filter="url(#bl)"/>
<path d="M391.4 601.35 Q396.1 602.45 400.8 601.35 L400.8 601.35 Q402.6 603.8 400.8 606.25 Q396.1 605.35 391.4 606.25 L391.4 606.25 Q389.6 603.8 391.4 601.35 Z" fill="#050505" filter="url(#bl)"/>
<rect x="440.8" y="602" width="10" height="18.5" fill="url(#sm)" opacity="0.22"/>
<rect x="441.55" y="599.15" width="8.5" height="2.2" fill="#e6e6e6" opacity="0.3" filter="url(#bl)"/>
<path d="M441.25 601.35 Q445.8 602.45 450.35 601.35 L450.35 601.35 Q452.15 603.8 450.35 606.25 Q445.8 605.35 441.25 606.25 L441.25 606.25 Q439.45 603.8 441.25 601.35 Z" fill="#050505" filter="url(#bl)"/>
<rect x="480.2" y="602" width="10" height="18.5" fill="url(#sm)" opacity="0.22"/>
<rect x="479.95" y="599.15" width="10.5" height="2.2" fill="#e6e6e6" opacity="0.3" filter="url(#bl)"/>
<path d="M479.65 601.35 Q485.2 602.45 490.75 601.35 L490.75 601.35 Q492.55 603.8 490.75 606.25 Q485.2 605.35 479.65 606.25 L479.65 606.25 Q477.85 603.8 479.65 601.35 Z" fill="#050505" filter="url(#bl)"/>
<path d="M317.4 633 L327.6 634.9" stroke="#0c0c0c" stroke-width="2.1" stroke-linecap="round" opacity="0.85" filter="url(#bl)"/>
<path d="M328.8 634.9 L339 634.9" stroke="#0c0c0c" stroke-width="2.1" stroke-linecap="round" opacity="0.82" filter="url(#bl)"/>
<path d="M340.1 635.8 L350.3 635.8" stroke="#0c0c0c" stroke-width="2.1" stroke-linecap="round" opacity="0.78" filter="url(#bl)"/>
<path d="M352.9 635.8 L363.1 635.8" stroke="#0c0c0c" stroke-width="2.1" stroke-linecap="round" opacity="0.78" filter="url(#bl)"/>
<path d="M365.4 636 L375.6 636" stroke="#0c0c0c" stroke-width="2.1" stroke-linecap="round" opacity="0.82" filter="url(#bl)"/>
<path d="M376.9 636.7 L387.1 636.7" stroke="#0c0c0c" stroke-width="2.1" stroke-linecap="round" opacity="0.88" filter="url(#bl)"/>
<path d="M390.4 636.7 L400.6 636.7" stroke="#0c0c0c" stroke-width="2.1" stroke-linecap="round" opacity="0.45" filter="url(#bl)"/>
<path d="M317.1 629.4 L327.9 629.4" stroke="#0c0c0c" stroke-width="1.5" stroke-linecap="round" opacity="0.22" filter="url(#bl)"/>
<path d="M328.5 630.4 L339.3 630.4" stroke="#0c0c0c" stroke-width="1.5" stroke-linecap="round" opacity="0.15" filter="url(#bl)"/>
<path d="M339.8 630.5 L350.6 630.5" stroke="#0c0c0c" stroke-width="1.5" stroke-linecap="round" opacity="0.15" filter="url(#bl)"/>
<path d="M352.6 630.6 L363.4 630.6" stroke="#0c0c0c" stroke-width="1.5" stroke-linecap="round" opacity="0.12" filter="url(#bl)"/>
<path d="M365.1 630.6 L375.9 630.6" stroke="#0c0c0c" stroke-width="1.5" stroke-linecap="round" opacity="0.15" filter="url(#bl)"/>
<path d="M376.6 630.6 L387.4 630.6" stroke="#0c0c0c" stroke-width="1.5" stroke-linecap="round" opacity="0.15" filter="url(#bl)"/>
<path d="M390.1 631 L400.9 631" stroke="#0c0c0c" stroke-width="1.5" stroke-linecap="round" opacity="0.1" filter="url(#bl)"/>
<path d="M404.25 633.3 L414.15 633.3" stroke="#f4f4f4" stroke-width="2.4" stroke-linecap="round" opacity="0.3" filter="url(#bl)"/>
<path d="M415.85 633.3 L425.75 633.3" stroke="#f4f4f4" stroke-width="2.4" stroke-linecap="round" opacity="0.3" filter="url(#bl)"/>
<path d="M427.75 633.3 L437.65 633.3" stroke="#f4f4f4" stroke-width="2.4" stroke-linecap="round" opacity="0.3" filter="url(#bl)"/>
<path d="M441.05 633.3 L450.95 633.3" stroke="#f4f4f4" stroke-width="2.4" stroke-linecap="round" opacity="0.3" filter="url(#bl)"/>
<path d="M455.05 633.3 L464.95 633.3" stroke="#f4f4f4" stroke-width="2.4" stroke-linecap="round" opacity="0.3" filter="url(#bl)"/>
<path d="M466.75 633.3 L476.65 633.3" stroke="#f4f4f4" stroke-width="2.4" stroke-linecap="round" opacity="0.3" filter="url(#bl)"/>
<path d="M479.55 633.3 L489.45 633.3" stroke="#f4f4f4" stroke-width="2.4" stroke-linecap="round" opacity="0.3" filter="url(#bl)"/>
<circle cx="410.7" cy="629.9" r="1" fill="#222" filter="url(#bl)"/>
<path d="M317.35 645 L327.65 646.8" stroke="#0c0c0c" stroke-width="2" stroke-linecap="round" opacity="0.85" filter="url(#bl)"/>
<path d="M328.75 646.4 L339.05 646.4" stroke="#0c0c0c" stroke-width="2" stroke-linecap="round" opacity="0.85" filter="url(#bl)"/>
<path d="M340.05 646.5 L350.35 646.5" stroke="#0c0c0c" stroke-width="2" stroke-linecap="round" opacity="0.85" filter="url(#bl)"/>
<path d="M352.85 646.5 L363.15 646.5" stroke="#0c0c0c" stroke-width="2" stroke-linecap="round" opacity="0.85" filter="url(#bl)"/>
<path d="M365.35 646.6 L375.65 646.6" stroke="#0c0c0c" stroke-width="2" stroke-linecap="round" opacity="0.85" filter="url(#bl)"/>
<path d="M376.85 646.6 L387.15 646.6" stroke="#0c0c0c" stroke-width="2" stroke-linecap="round" opacity="0.85" filter="url(#bl)"/>
<path d="M390.35 646.6 L400.65 646.6" stroke="#0c0c0c" stroke-width="2" stroke-linecap="round" opacity="0.85" filter="url(#bl)"/>
<path d="M404.05 646.9 L414.35 646.9" stroke="#0c0c0c" stroke-width="2" stroke-linecap="round" opacity="0.85" filter="url(#bl)"/>
<path d="M415.65 647.2 L425.95 647.2" stroke="#0c0c0c" stroke-width="2" stroke-linecap="round" opacity="0.85" filter="url(#bl)"/>
<path d="M427.55 647.6 L437.85 647.6" stroke="#0c0c0c" stroke-width="2" stroke-linecap="round" opacity="0.85" filter="url(#bl)"/>
<path d="M440.85 647.7 L451.15 647.7" stroke="#0c0c0c" stroke-width="2" stroke-linecap="round" opacity="0.85" filter="url(#bl)"/>
<path d="M454.85 647.6 L465.15 647.6" stroke="#0c0c0c" stroke-width="2" stroke-linecap="round" opacity="0.85" filter="url(#bl)"/>
<path d="M466.55 647.1 L476.85 647.1" stroke="#0c0c0c" stroke-width="2" stroke-linecap="round" opacity="0.85" filter="url(#bl)"/>
<path d="M479.35 646.9 L489.65 645.7" stroke="#0c0c0c" stroke-width="2" stroke-linecap="round" opacity="0.85" filter="url(#bl)"/>
<path d="M317.5 650.9 L327.5 652.4" stroke="#0c0c0c" stroke-width="2.3" stroke-linecap="round" opacity="0.92" filter="url(#bl)"/>
<path d="M328.9 652 L338.9 652" stroke="#0c0c0c" stroke-width="2.3" stroke-linecap="round" opacity="0.92" filter="url(#bl)"/>
<path d="M340.2 652.2 L350.2 652.2" stroke="#0c0c0c" stroke-width="2.3" stroke-linecap="round" opacity="0.92" filter="url(#bl)"/>
<path d="M353 652 L363 652" stroke="#0c0c0c" stroke-width="2.3" stroke-linecap="round" opacity="0.92" filter="url(#bl)"/>
<path d="M365.5 652 L375.5 652" stroke="#0c0c0c" stroke-width="2.3" stroke-linecap="round" opacity="0.92" filter="url(#bl)"/>
<path d="M377 652 L387 652" stroke="#0c0c0c" stroke-width="2.3" stroke-linecap="round" opacity="0.92" filter="url(#bl)"/>
<path d="M390.5 652.1 L400.5 652.1" stroke="#0c0c0c" stroke-width="2.3" stroke-linecap="round" opacity="0.92" filter="url(#bl)"/>
<path d="M404.2 652.3 L414.2 652.3" stroke="#0c0c0c" stroke-width="2.3" stroke-linecap="round" opacity="0.92" filter="url(#bl)"/>
<path d="M415.8 652.4 L425.8 652.4" stroke="#0c0c0c" stroke-width="2.3" stroke-linecap="round" opacity="0.92" filter="url(#bl)"/>
<path d="M427.7 652.5 L437.7 652.5" stroke="#0c0c0c" stroke-width="2.3" stroke-linecap="round" opacity="0.92" filter="url(#bl)"/>
<path d="M441 652.5 L451 652.5" stroke="#0c0c0c" stroke-width="2.3" stroke-linecap="round" opacity="0.92" filter="url(#bl)"/>
<path d="M455 652.3 L465 652.3" stroke="#0c0c0c" stroke-width="2.3" stroke-linecap="round" opacity="0.92" filter="url(#bl)"/>
<path d="M466.7 652 L476.7 652" stroke="#0c0c0c" stroke-width="2.3" stroke-linecap="round" opacity="0.92" filter="url(#bl)"/>
<path d="M479.5 651.8 L489.5 650.5" stroke="#0c0c0c" stroke-width="2.3" stroke-linecap="round" opacity="0.92" filter="url(#bl)"/>
<path d="M317.8 662 L327.2 664.1" stroke="#0c0c0c" stroke-width="2.9" stroke-linecap="round" opacity="0.97" filter="url(#bl)"/>
<path d="M329.2 664.2 L338.6 665.4" stroke="#0c0c0c" stroke-width="2.9" stroke-linecap="round" opacity="0.97" filter="url(#bl)"/>
<path d="M340.5 665.7 L349.9 666.5" stroke="#0c0c0c" stroke-width="2.9" stroke-linecap="round" opacity="0.97" filter="url(#bl)"/>
<path d="M353.3 666.5 L362.7 666.5" stroke="#0c0c0c" stroke-width="2.9" stroke-linecap="round" opacity="0.97" filter="url(#bl)"/>
<path d="M365.8 666.7 L375.2 667.7" stroke="#0c0c0c" stroke-width="2.9" stroke-linecap="round" opacity="0.97" filter="url(#bl)"/>
<path d="M377.3 668 L386.7 668" stroke="#0c0c0c" stroke-width="2.9" stroke-linecap="round" opacity="0.97" filter="url(#bl)"/>
<path d="M390.8 668.2 L400.2 668.2" stroke="#0c0c0c" stroke-width="2.9" stroke-linecap="round" opacity="0.97" filter="url(#bl)"/>
<path d="M404.5 668.4 L413.9 668.4" stroke="#0c0c0c" stroke-width="2.9" stroke-linecap="round" opacity="0.97" filter="url(#bl)"/>
<path d="M416.1 668.7 L425.5 668.7" stroke="#0c0c0c" stroke-width="2.9" stroke-linecap="round" opacity="0.97" filter="url(#bl)"/>
<path d="M428 669.1 L437.4 669.1" stroke="#0c0c0c" stroke-width="2.9" stroke-linecap="round" opacity="0.97" filter="url(#bl)"/>
<path d="M441.3 669.1 L450.7 669.1" stroke="#0c0c0c" stroke-width="2.9" stroke-linecap="round" opacity="0.97" filter="url(#bl)"/>
<path d="M455.3 668.8 L464.7 668.8" stroke="#0c0c0c" stroke-width="2.9" stroke-linecap="round" opacity="0.97" filter="url(#bl)"/>
<path d="M467 667.8 L476.4 665.5" stroke="#0c0c0c" stroke-width="2.9" stroke-linecap="round" opacity="0.97" filter="url(#bl)"/>
<path d="M479.8 664.5 L489.2 662.3" stroke="#0c0c0c" stroke-width="2.9" stroke-linecap="round" opacity="0.97" filter="url(#bl)"/>
<text x="323.7" y="685.6" font-size="10.2" text-anchor="middle" transform="translate(323.7 685.6) scale(0.9 1) translate(-323.7 -685.6)">1</text>
<text x="335.7" y="685.6" font-size="10.2" text-anchor="middle" transform="translate(335.7 685.6) scale(0.9 1) translate(-335.7 -685.6)">2</text>
<text x="348" y="685.6" font-size="10.2" text-anchor="middle" transform="translate(348 685.6) scale(0.9 1) translate(-348 -685.6)">3</text>
<text x="360.7" y="685.6" font-size="10.2" text-anchor="middle" transform="translate(360.7 685.6) scale(0.9 1) translate(-360.7 -685.6)">4</text>
<text x="373" y="685.6" font-size="10.2" text-anchor="middle" transform="translate(373 685.6) scale(0.9 1) translate(-373 -685.6)">5</text>
<text x="384.2" y="685.6" font-size="10.2" text-anchor="middle" transform="translate(384.2 685.6) scale(0.9 1) translate(-384.2 -685.6)">6</text>
<text x="397.5" y="685.6" font-size="10.2" text-anchor="middle" transform="translate(397.5 685.6) scale(0.9 1) translate(-397.5 -685.6)">7</text>
<text x="410.5" y="685.6" font-size="10.2" text-anchor="middle" transform="translate(410.5 685.6) scale(0.9 1) translate(-410.5 -685.6)">8</text>
<text x="422.5" y="685.6" font-size="10.2" text-anchor="middle" transform="translate(422.5 685.6) scale(0.9 1) translate(-422.5 -685.6)">9</text>
<text x="436" y="685.6" font-size="10.2" text-anchor="middle" transform="translate(436 685.6) scale(0.9 1) translate(-436 -685.6)">10</text>
<text x="450.2" y="685.6" font-size="10.2" text-anchor="middle" transform="translate(450.2 685.6) scale(0.9 1) translate(-450.2 -685.6)">11</text>
<text x="463.5" y="685.6" font-size="10.2" text-anchor="middle" transform="translate(463.5 685.6) scale(0.9 1) translate(-463.5 -685.6)">12</text>
<text x="476" y="685.6" font-size="10.2" text-anchor="middle" transform="translate(476 685.6) scale(0.9 1) translate(-476 -685.6)">13</text>
<text x="486.1" y="685.6" font-size="10.2" text-anchor="middle" transform="translate(486.1 685.6) scale(0.9 1) translate(-486.1 -685.6)">14</text>
</svg>
</body></html>
